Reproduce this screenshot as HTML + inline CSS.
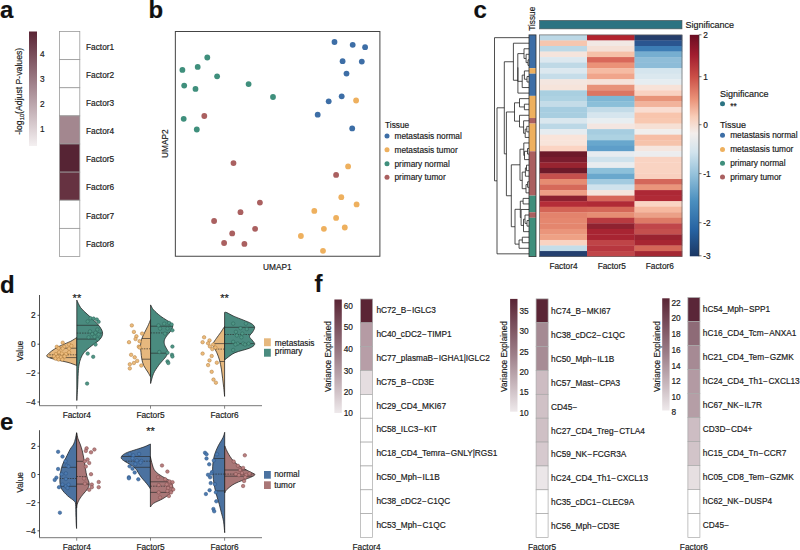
<!DOCTYPE html>
<html><head><meta charset="utf-8"><style>
html,body{margin:0;padding:0;background:#fff;width:800px;height:550px;overflow:hidden}
svg{display:block;font-family:"Liberation Sans", sans-serif}
text{stroke:#1a1a1a;stroke-width:0.18px}
</style></head><body>
<svg width="800" height="550" viewBox="0 0 800 550">
<text x="0.00" y="18.00" font-size="24" text-anchor="start" fill="#111" font-weight="bold" >a</text>
<text x="148.50" y="18.20" font-size="24" text-anchor="start" fill="#111" font-weight="bold" >b</text>
<text x="473.50" y="18.10" font-size="24" text-anchor="start" fill="#111" font-weight="bold" >c</text>
<text x="0.00" y="293.00" font-size="24" text-anchor="start" fill="#111" font-weight="bold" >d</text>
<text x="0.00" y="430.00" font-size="24" text-anchor="start" fill="#111" font-weight="bold" >e</text>
<text x="314.50" y="291.60" font-size="24" text-anchor="start" fill="#111" font-weight="bold" >f</text>
<defs>
<linearGradient id="ga" x1="0" y1="0" x2="0" y2="1"><stop offset="0" stop-color="#5a2535"/><stop offset="1" stop-color="#f4f0f1"/></linearGradient>
<linearGradient id="gc" x1="0" y1="0" x2="0" y2="1"><stop offset="0" stop-color="#6a0d22"/><stop offset="0.09" stop-color="#a11d2f"/><stop offset="0.19" stop-color="#cb4f47"/><stop offset="0.29" stop-color="#ea9278"/><stop offset="0.37" stop-color="#f8cdb8"/><stop offset="0.445" stop-color="#f3eeec"/><stop offset="0.53" stop-color="#d2e3ed"/><stop offset="0.63" stop-color="#94c1da"/><stop offset="0.75" stop-color="#4b8fbf"/><stop offset="0.88" stop-color="#2763a2"/><stop offset="1" stop-color="#1b3663"/></linearGradient>
</defs>
<rect x="29" y="31.5" width="8" height="114.5" fill="url(#ga)"/>
<text x="40.00" y="57.40" font-size="8.3" text-anchor="start" fill="#1a1a1a" font-weight="normal" >4</text>
<text x="40.00" y="82.30" font-size="8.3" text-anchor="start" fill="#1a1a1a" font-weight="normal" >3</text>
<text x="40.00" y="107.40" font-size="8.3" text-anchor="start" fill="#1a1a1a" font-weight="normal" >2</text>
<text x="40.00" y="131.70" font-size="8.3" text-anchor="start" fill="#1a1a1a" font-weight="normal" >1</text>
<text transform="translate(18.9,91.3) rotate(-90)" x="0" y="3.1" font-size="8.7" text-anchor="middle" fill="#1a1a1a">-log<tspan font-size="5.8" dy="2">10</tspan><tspan dy="-2">(Adjust P-values)</tspan></text>
<rect x="59.5" y="31.50" width="20.3" height="28.12" fill="#ffffff" stroke="#9a9a9a" stroke-width="0.8"/>
<text x="86.00" y="49.76" font-size="8.3" text-anchor="start" fill="#1a1a1a" font-weight="normal" >Factor1</text>
<rect x="59.5" y="59.62" width="20.3" height="28.12" fill="#ffffff" stroke="#9a9a9a" stroke-width="0.8"/>
<text x="86.00" y="77.89" font-size="8.3" text-anchor="start" fill="#1a1a1a" font-weight="normal" >Factor2</text>
<rect x="59.5" y="87.75" width="20.3" height="28.12" fill="#ffffff" stroke="#9a9a9a" stroke-width="0.8"/>
<text x="86.00" y="106.01" font-size="8.3" text-anchor="start" fill="#1a1a1a" font-weight="normal" >Factor3</text>
<rect x="59.5" y="115.88" width="20.3" height="28.12" fill="#a3878f" stroke="#9a9a9a" stroke-width="0.8"/>
<text x="86.00" y="134.14" font-size="8.3" text-anchor="start" fill="#1a1a1a" font-weight="normal" >Factor4</text>
<rect x="59.5" y="144.00" width="20.3" height="28.12" fill="#562434" stroke="#9a9a9a" stroke-width="0.8"/>
<text x="86.00" y="162.26" font-size="8.3" text-anchor="start" fill="#1a1a1a" font-weight="normal" >Factor5</text>
<rect x="59.5" y="172.12" width="20.3" height="28.12" fill="#663241" stroke="#9a9a9a" stroke-width="0.8"/>
<text x="86.00" y="190.39" font-size="8.3" text-anchor="start" fill="#1a1a1a" font-weight="normal" >Factor6</text>
<rect x="59.5" y="200.25" width="20.3" height="28.12" fill="#ffffff" stroke="#9a9a9a" stroke-width="0.8"/>
<text x="86.00" y="218.51" font-size="8.3" text-anchor="start" fill="#1a1a1a" font-weight="normal" >Factor7</text>
<rect x="59.5" y="228.38" width="20.3" height="28.12" fill="#ffffff" stroke="#9a9a9a" stroke-width="0.8"/>
<text x="86.00" y="246.64" font-size="8.3" text-anchor="start" fill="#1a1a1a" font-weight="normal" >Factor8</text>
<rect x="175.35" y="31.5" width="204.55" height="224.75" fill="none" stroke="#444" stroke-width="1"/>
<circle cx="334.5" cy="42.0" r="2.9" fill="#3d6ea6"/>
<circle cx="352.7" cy="44.8" r="2.9" fill="#3d6ea6"/>
<circle cx="365.1" cy="47.2" r="2.9" fill="#3d6ea6"/>
<circle cx="342.6" cy="61.2" r="2.9" fill="#3d6ea6"/>
<circle cx="361.8" cy="61.6" r="2.9" fill="#3d6ea6"/>
<circle cx="346.5" cy="73.6" r="2.9" fill="#3d6ea6"/>
<circle cx="341.7" cy="96.3" r="2.9" fill="#3d6ea6"/>
<circle cx="328.7" cy="101.3" r="2.9" fill="#3d6ea6"/>
<circle cx="317.7" cy="114.7" r="2.9" fill="#3d6ea6"/>
<circle cx="352.2" cy="128.4" r="2.9" fill="#3d6ea6"/>
<circle cx="356.1" cy="100.5" r="2.9" fill="#eeb05e"/>
<circle cx="348.1" cy="166.4" r="2.9" fill="#eeb05e"/>
<circle cx="341.3" cy="197.2" r="2.9" fill="#eeb05e"/>
<circle cx="356.6" cy="204.4" r="2.9" fill="#eeb05e"/>
<circle cx="314.3" cy="210.9" r="2.9" fill="#eeb05e"/>
<circle cx="336.1" cy="217.9" r="2.9" fill="#eeb05e"/>
<circle cx="323.9" cy="228.8" r="2.9" fill="#eeb05e"/>
<circle cx="344.8" cy="227.5" r="2.9" fill="#eeb05e"/>
<circle cx="300.9" cy="236.0" r="2.9" fill="#eeb05e"/>
<circle cx="323.0" cy="250.8" r="2.9" fill="#eeb05e"/>
<circle cx="207.3" cy="57.5" r="2.9" fill="#3f8f7c"/>
<circle cx="197.7" cy="66.9" r="2.9" fill="#3f8f7c"/>
<circle cx="182.4" cy="69.9" r="2.9" fill="#3f8f7c"/>
<circle cx="217.1" cy="76.3" r="2.9" fill="#3f8f7c"/>
<circle cx="184.2" cy="85.6" r="2.9" fill="#3f8f7c"/>
<circle cx="195.5" cy="88.9" r="2.9" fill="#3f8f7c"/>
<circle cx="248.6" cy="84.1" r="2.9" fill="#3f8f7c"/>
<circle cx="273.0" cy="97.0" r="2.9" fill="#3f8f7c"/>
<circle cx="183.7" cy="118.8" r="2.9" fill="#3f8f7c"/>
<circle cx="196.8" cy="129.5" r="2.9" fill="#3f8f7c"/>
<circle cx="204.3" cy="116.0" r="2.9" fill="#aa6060"/>
<circle cx="233.5" cy="163.1" r="2.9" fill="#aa6060"/>
<circle cx="259.9" cy="202.6" r="2.9" fill="#aa6060"/>
<circle cx="240.5" cy="212.2" r="2.9" fill="#aa6060"/>
<circle cx="214.1" cy="221.0" r="2.9" fill="#aa6060"/>
<circle cx="255.1" cy="228.8" r="2.9" fill="#aa6060"/>
<circle cx="232.2" cy="233.4" r="2.9" fill="#aa6060"/>
<circle cx="224.1" cy="243.0" r="2.9" fill="#aa6060"/>
<circle cx="244.4" cy="243.9" r="2.9" fill="#aa6060"/>
<circle cx="336.1" cy="174.9" r="2.9" fill="#aa6060"/>
<text transform="translate(165.30,143.60) rotate(-90)" x="0" y="2.99" font-size="8.3" text-anchor="middle" fill="#1a1a1a">UMAP2</text>
<text x="277.30" y="270.00" font-size="8.3" text-anchor="middle" fill="#1a1a1a" font-weight="normal" >UMAP1</text>
<text x="385.10" y="127.50" font-size="8.3" text-anchor="start" fill="#1a1a1a" font-weight="normal" >Tissue</text>
<circle cx="387" cy="135.9" r="2.5" fill="#3d6ea6"/>
<text x="394.50" y="138.80" font-size="8.3" text-anchor="start" fill="#1a1a1a" font-weight="normal" >metastasis normal</text>
<circle cx="387" cy="149.7" r="2.5" fill="#eeb05e"/>
<text x="394.50" y="152.60" font-size="8.3" text-anchor="start" fill="#1a1a1a" font-weight="normal" >metastasis tumor</text>
<circle cx="387" cy="163.8" r="2.5" fill="#3f8f7c"/>
<text x="394.50" y="166.70" font-size="8.3" text-anchor="start" fill="#1a1a1a" font-weight="normal" >primary normal</text>
<circle cx="387" cy="177.3" r="2.5" fill="#aa6060"/>
<text x="394.50" y="180.20" font-size="8.3" text-anchor="start" fill="#1a1a1a" font-weight="normal" >primary tumor</text>
<rect x="539.50" y="34.900" width="47.80" height="5.843" fill="#bcd8e6"/>
<rect x="587.00" y="34.900" width="47.80" height="5.843" fill="#b2242f"/>
<rect x="634.50" y="34.900" width="47.80" height="5.843" fill="#253e6b"/>
<rect x="539.50" y="40.442" width="47.80" height="5.843" fill="#f6c6af"/>
<rect x="587.00" y="40.442" width="47.80" height="5.843" fill="#f2e8e4"/>
<rect x="634.50" y="40.442" width="47.80" height="5.843" fill="#2a5590"/>
<rect x="539.50" y="45.985" width="47.80" height="5.843" fill="#bcd8e6"/>
<rect x="587.00" y="45.985" width="47.80" height="5.843" fill="#f5e0d6"/>
<rect x="634.50" y="45.985" width="47.80" height="5.843" fill="#3d7db5"/>
<rect x="539.50" y="51.528" width="47.80" height="5.843" fill="#f5e4dc"/>
<rect x="587.00" y="51.528" width="47.80" height="5.843" fill="#f6c1a8"/>
<rect x="634.50" y="51.528" width="47.80" height="5.843" fill="#76aed0"/>
<rect x="539.50" y="57.070" width="47.80" height="5.843" fill="#dce8ef"/>
<rect x="587.00" y="57.070" width="47.80" height="5.843" fill="#d9685a"/>
<rect x="634.50" y="57.070" width="47.80" height="5.843" fill="#8fbdd8"/>
<rect x="539.50" y="62.612" width="47.80" height="5.843" fill="#bfd9e6"/>
<rect x="587.00" y="62.612" width="47.80" height="5.843" fill="#eb9278"/>
<rect x="634.50" y="62.612" width="47.80" height="5.843" fill="#8dbcd8"/>
<rect x="539.50" y="68.155" width="47.80" height="5.843" fill="#dce8ef"/>
<rect x="587.00" y="68.155" width="47.80" height="5.843" fill="#f5bba3"/>
<rect x="634.50" y="68.155" width="47.80" height="5.843" fill="#d5e5ee"/>
<rect x="539.50" y="73.697" width="47.80" height="5.843" fill="#c6dde9"/>
<rect x="587.00" y="73.697" width="47.80" height="5.843" fill="#f0a58b"/>
<rect x="634.50" y="73.697" width="47.80" height="5.843" fill="#dbe8ef"/>
<rect x="539.50" y="79.240" width="47.80" height="5.843" fill="#f4e6e0"/>
<rect x="587.00" y="79.240" width="47.80" height="5.843" fill="#f5e3da"/>
<rect x="634.50" y="79.240" width="47.80" height="5.843" fill="#e6edf1"/>
<rect x="539.50" y="84.782" width="47.80" height="5.843" fill="#f6e4db"/>
<rect x="587.00" y="84.782" width="47.80" height="5.843" fill="#e8937a"/>
<rect x="634.50" y="84.782" width="47.80" height="5.843" fill="#f7e2d8"/>
<rect x="539.50" y="90.325" width="47.80" height="5.843" fill="#a9cfe0"/>
<rect x="587.00" y="90.325" width="47.80" height="5.843" fill="#dc7562"/>
<rect x="634.50" y="90.325" width="47.80" height="5.843" fill="#f9d2c1"/>
<rect x="539.50" y="95.868" width="47.80" height="5.843" fill="#aed2e2"/>
<rect x="587.00" y="95.868" width="47.80" height="5.843" fill="#7eb6d4"/>
<rect x="634.50" y="95.868" width="47.80" height="5.843" fill="#e89479"/>
<rect x="539.50" y="101.410" width="47.80" height="5.843" fill="#c4dce8"/>
<rect x="587.00" y="101.410" width="47.80" height="5.843" fill="#8bbfd9"/>
<rect x="634.50" y="101.410" width="47.80" height="5.843" fill="#f2b39b"/>
<rect x="539.50" y="106.953" width="47.80" height="5.843" fill="#a6cde0"/>
<rect x="587.00" y="106.953" width="47.80" height="5.843" fill="#c3dbe8"/>
<rect x="634.50" y="106.953" width="47.80" height="5.843" fill="#f9ddd1"/>
<rect x="539.50" y="112.495" width="47.80" height="5.843" fill="#a8cee0"/>
<rect x="587.00" y="112.495" width="47.80" height="5.843" fill="#d6e5ee"/>
<rect x="634.50" y="112.495" width="47.80" height="5.843" fill="#f8c5ad"/>
<rect x="539.50" y="118.037" width="47.80" height="5.843" fill="#dae7ee"/>
<rect x="587.00" y="118.037" width="47.80" height="5.843" fill="#e8eef1"/>
<rect x="634.50" y="118.037" width="47.80" height="5.843" fill="#f8c8b1"/>
<rect x="539.50" y="123.580" width="47.80" height="5.843" fill="#bcd8e6"/>
<rect x="587.00" y="123.580" width="47.80" height="5.843" fill="#f3e6e1"/>
<rect x="634.50" y="123.580" width="47.80" height="5.843" fill="#f6e0d5"/>
<rect x="539.50" y="129.123" width="47.80" height="5.843" fill="#e6ecf0"/>
<rect x="587.00" y="129.123" width="47.80" height="5.843" fill="#a6cde0"/>
<rect x="634.50" y="129.123" width="47.80" height="5.843" fill="#f0eeed"/>
<rect x="539.50" y="134.665" width="47.80" height="5.843" fill="#f9e4da"/>
<rect x="587.00" y="134.665" width="47.80" height="5.843" fill="#add2e2"/>
<rect x="634.50" y="134.665" width="47.80" height="5.843" fill="#f6bea6"/>
<rect x="539.50" y="140.208" width="47.80" height="5.843" fill="#f8e4da"/>
<rect x="587.00" y="140.208" width="47.80" height="5.843" fill="#68a7cd"/>
<rect x="634.50" y="140.208" width="47.80" height="5.843" fill="#f6c3ab"/>
<rect x="539.50" y="145.750" width="47.80" height="5.843" fill="#fbd4c3"/>
<rect x="587.00" y="145.750" width="47.80" height="5.843" fill="#5e9ec9"/>
<rect x="634.50" y="145.750" width="47.80" height="5.843" fill="#f5e6df"/>
<rect x="539.50" y="151.293" width="47.80" height="5.843" fill="#6d1a2a"/>
<rect x="587.00" y="151.293" width="47.80" height="5.843" fill="#e7ecf0"/>
<rect x="634.50" y="151.293" width="47.80" height="5.843" fill="#ecedef"/>
<rect x="539.50" y="156.835" width="47.80" height="5.843" fill="#7a1d2e"/>
<rect x="587.00" y="156.835" width="47.80" height="5.843" fill="#cfe2ec"/>
<rect x="634.50" y="156.835" width="47.80" height="5.843" fill="#f9d3c2"/>
<rect x="539.50" y="162.377" width="47.80" height="5.843" fill="#982430"/>
<rect x="587.00" y="162.377" width="47.80" height="5.843" fill="#e8ecef"/>
<rect x="634.50" y="162.377" width="47.80" height="5.843" fill="#f9d3c2"/>
<rect x="539.50" y="167.920" width="47.80" height="5.843" fill="#6d1a2a"/>
<rect x="587.00" y="167.920" width="47.80" height="5.843" fill="#8cc0da"/>
<rect x="634.50" y="167.920" width="47.80" height="5.843" fill="#f9d3c2"/>
<rect x="539.50" y="173.463" width="47.80" height="5.843" fill="#c5504d"/>
<rect x="587.00" y="173.463" width="47.80" height="5.843" fill="#6aa8cd"/>
<rect x="634.50" y="173.463" width="47.80" height="5.843" fill="#f9d0bf"/>
<rect x="539.50" y="179.005" width="47.80" height="5.843" fill="#e68c72"/>
<rect x="587.00" y="179.005" width="47.80" height="5.843" fill="#a3cbe0"/>
<rect x="634.50" y="179.005" width="47.80" height="5.843" fill="#d4675a"/>
<rect x="539.50" y="184.548" width="47.80" height="5.843" fill="#d66a5a"/>
<rect x="587.00" y="184.548" width="47.80" height="5.843" fill="#cfe2ec"/>
<rect x="634.50" y="184.548" width="47.80" height="5.843" fill="#ea957b"/>
<rect x="539.50" y="190.090" width="47.80" height="5.843" fill="#ee9f85"/>
<rect x="587.00" y="190.090" width="47.80" height="5.843" fill="#f5e4dc"/>
<rect x="634.50" y="190.090" width="47.80" height="5.843" fill="#ad2835"/>
<rect x="539.50" y="195.633" width="47.80" height="5.843" fill="#8c2230"/>
<rect x="587.00" y="195.633" width="47.80" height="5.843" fill="#d6665a"/>
<rect x="634.50" y="195.633" width="47.80" height="5.843" fill="#b02a36"/>
<rect x="539.50" y="201.175" width="47.80" height="5.843" fill="#b42d38"/>
<rect x="587.00" y="201.175" width="47.80" height="5.843" fill="#b02a36"/>
<rect x="634.50" y="201.175" width="47.80" height="5.843" fill="#fad5c4"/>
<rect x="539.50" y="206.718" width="47.80" height="5.843" fill="#d46556"/>
<rect x="587.00" y="206.718" width="47.80" height="5.843" fill="#d56858"/>
<rect x="634.50" y="206.718" width="47.80" height="5.843" fill="#f6b89f"/>
<rect x="539.50" y="212.260" width="47.80" height="5.843" fill="#e3836c"/>
<rect x="587.00" y="212.260" width="47.80" height="5.843" fill="#e68d73"/>
<rect x="634.50" y="212.260" width="47.80" height="5.843" fill="#eba087"/>
<rect x="539.50" y="217.803" width="47.80" height="5.843" fill="#e5876f"/>
<rect x="587.00" y="217.803" width="47.80" height="5.843" fill="#b83a40"/>
<rect x="634.50" y="217.803" width="47.80" height="5.843" fill="#dd7a66"/>
<rect x="539.50" y="223.345" width="47.80" height="5.843" fill="#e4866e"/>
<rect x="587.00" y="223.345" width="47.80" height="5.843" fill="#8f2230"/>
<rect x="634.50" y="223.345" width="47.80" height="5.843" fill="#c0464a"/>
<rect x="539.50" y="228.888" width="47.80" height="5.843" fill="#ea957b"/>
<rect x="587.00" y="228.888" width="47.80" height="5.843" fill="#a82432"/>
<rect x="634.50" y="228.888" width="47.80" height="5.843" fill="#c44f4e"/>
<rect x="539.50" y="234.430" width="47.80" height="5.843" fill="#eea185"/>
<rect x="587.00" y="234.430" width="47.80" height="5.843" fill="#a82432"/>
<rect x="634.50" y="234.430" width="47.80" height="5.843" fill="#9a2331"/>
<rect x="539.50" y="239.973" width="47.80" height="5.843" fill="#f9d3c2"/>
<rect x="587.00" y="239.973" width="47.80" height="5.843" fill="#bf4447"/>
<rect x="634.50" y="239.973" width="47.80" height="5.843" fill="#a72632"/>
<rect x="539.50" y="245.515" width="47.80" height="5.843" fill="#c4dde9"/>
<rect x="587.00" y="245.515" width="47.80" height="5.843" fill="#b7373f"/>
<rect x="634.50" y="245.515" width="47.80" height="5.843" fill="#d46758"/>
<rect x="539.50" y="251.058" width="47.80" height="5.843" fill="#24406f"/>
<rect x="587.00" y="251.058" width="47.80" height="5.843" fill="#c0464a"/>
<rect x="634.50" y="251.058" width="47.80" height="5.843" fill="#a42833"/>
<rect x="539.5" y="34.9" width="142.5" height="221.70" fill="none" stroke="#666" stroke-width="0.7"/>
<rect x="539.5" y="20.3" width="142.5" height="8.6" fill="#2b7382" stroke="#555" stroke-width="0.6"/>
<text x="685.50" y="27.80" font-size="9" text-anchor="start" fill="#1a1a1a" font-weight="normal" >Significance</text>
<rect x="529.0" y="34.900" width="7" height="33.255" fill="#3d6ea6"/>
<rect x="529.0" y="68.155" width="7" height="5.543" fill="#eeb05e"/>
<rect x="529.0" y="73.697" width="7" height="22.170" fill="#3d6ea6"/>
<rect x="529.0" y="95.868" width="7" height="22.170" fill="#eeb05e"/>
<rect x="529.0" y="118.037" width="7" height="5.543" fill="#aa6060"/>
<rect x="529.0" y="123.580" width="7" height="27.713" fill="#eeb05e"/>
<rect x="529.0" y="151.293" width="7" height="44.340" fill="#aa6060"/>
<rect x="529.0" y="195.633" width="7" height="16.628" fill="#3f8f7c"/>
<rect x="529.0" y="212.260" width="7" height="5.543" fill="#aa6060"/>
<rect x="529.0" y="217.803" width="7" height="38.797" fill="#3f8f7c"/>
<rect x="529.0" y="34.9" width="7" height="221.70" fill="none" stroke="#333" stroke-width="0.8"/>
<text transform="translate(532.30,18.75) rotate(-90)" x="0" y="2.99" font-size="8.3" text-anchor="middle" fill="#1a1a1a">Tissue</text>
<rect x="689.8" y="34.8" width="9.2" height="221.5" fill="url(#gc)"/>
<line x1="699" y1="34.8" x2="699" y2="256.3" stroke="#333" stroke-width="0.7"/>
<line x1="699" y1="34.8" x2="701.5" y2="34.8" stroke="#333" stroke-width="0.7"/>
<text x="703.30" y="37.80" font-size="8.3" text-anchor="start" fill="#1a1a1a" font-weight="normal" >2</text>
<line x1="699" y1="76.7" x2="701.5" y2="76.7" stroke="#333" stroke-width="0.7"/>
<text x="703.30" y="79.70" font-size="8.3" text-anchor="start" fill="#1a1a1a" font-weight="normal" >1</text>
<line x1="699" y1="124.7" x2="701.5" y2="124.7" stroke="#333" stroke-width="0.7"/>
<text x="703.30" y="127.70" font-size="8.3" text-anchor="start" fill="#1a1a1a" font-weight="normal" >0</text>
<line x1="699" y1="173.6" x2="701.5" y2="173.6" stroke="#333" stroke-width="0.7"/>
<text x="703.30" y="176.60" font-size="8.3" text-anchor="start" fill="#1a1a1a" font-weight="normal" >-1</text>
<line x1="699" y1="222.7" x2="701.5" y2="222.7" stroke="#333" stroke-width="0.7"/>
<text x="703.30" y="225.70" font-size="8.3" text-anchor="start" fill="#1a1a1a" font-weight="normal" >-2</text>
<line x1="699" y1="255.8" x2="701.5" y2="255.8" stroke="#333" stroke-width="0.7"/>
<text x="703.30" y="258.80" font-size="8.3" text-anchor="start" fill="#1a1a1a" font-weight="normal" >-3</text>
<text x="563.45" y="268.80" font-size="8.3" text-anchor="middle" fill="#1a1a1a" font-weight="normal" >Factor4</text>
<text x="611.75" y="268.80" font-size="8.3" text-anchor="middle" fill="#1a1a1a" font-weight="normal" >Factor5</text>
<text x="659.85" y="268.80" font-size="8.3" text-anchor="middle" fill="#1a1a1a" font-weight="normal" >Factor6</text>
<text x="719.90" y="97.00" font-size="9" text-anchor="start" fill="#1a1a1a" font-weight="normal" >Significance</text>
<circle cx="722.5" cy="103.8" r="2.5" fill="#2b7382"/>
<text x="730.30" y="108.80" font-size="8.3" text-anchor="start" fill="#1a1a1a" font-weight="normal" >**</text>
<text x="719.90" y="127.60" font-size="9" text-anchor="start" fill="#1a1a1a" font-weight="normal" >Tissue</text>
<circle cx="722.5" cy="135.2" r="2.5" fill="#3d6ea6"/>
<text x="730.20" y="138.10" font-size="8.3" text-anchor="start" fill="#1a1a1a" font-weight="normal" >metastasis normal</text>
<circle cx="722.5" cy="149.5" r="2.5" fill="#eeb05e"/>
<text x="730.20" y="152.40" font-size="8.3" text-anchor="start" fill="#1a1a1a" font-weight="normal" >metastasis tumor</text>
<circle cx="722.5" cy="163.2" r="2.5" fill="#3f8f7c"/>
<text x="730.20" y="166.10" font-size="8.3" text-anchor="start" fill="#1a1a1a" font-weight="normal" >primary normal</text>
<circle cx="722.5" cy="177.1" r="2.5" fill="#aa6060"/>
<text x="730.20" y="180.00" font-size="8.3" text-anchor="start" fill="#1a1a1a" font-weight="normal" >primary tumor</text>
<path d="M528.00,59.84V65.38M528.00,59.84H529.00M528.00,65.38H529.00M526.10,54.30V62.61M526.10,54.30H529.00M526.10,62.61H528.00M524.00,48.76V58.46M524.00,48.76H529.00M524.00,58.46H526.10M527.00,76.47V82.01M527.00,76.47H529.00M527.00,82.01H529.00M524.40,70.93V79.24M524.40,70.93H529.00M524.40,79.24H527.00M522.20,75.08V87.55M522.20,75.08H524.40M522.20,87.55H529.00M517.80,53.61V81.32M517.80,53.61H524.00M517.80,81.32H522.20M517.90,67.46V93.10M517.90,67.46H517.80M517.90,93.10H529.00M513.40,43.21V80.28M513.40,43.21H529.00M513.40,80.28H517.90M524.40,104.18V109.72M524.40,104.18H529.00M524.40,109.72H529.00M519.50,98.64V106.95M519.50,98.64H529.00M519.50,106.95H524.40M526.80,126.35V131.89M526.80,126.35H529.00M526.80,131.89H529.00M525.20,129.12V137.44M525.20,129.12H526.80M525.20,137.44H529.00M523.60,120.81V133.28M523.60,120.81H529.00M523.60,133.28H525.20M519.50,115.27V127.04M519.50,115.27H529.00M519.50,127.04H523.60M514.50,102.80V121.16M514.50,102.80H519.50M514.50,121.16H519.50M527.50,148.52V154.06M527.50,148.52H529.00M527.50,154.06H529.00M524.50,151.29V159.61M524.50,151.29H527.50M524.50,159.61H529.00M523.80,142.98V155.45M523.80,142.98H529.00M523.80,155.45H524.50M526.50,165.15V170.69M526.50,165.15H529.00M526.50,170.69H529.00M525.40,167.92V176.23M525.40,167.92H526.50M525.40,176.23H529.00M527.60,181.78V187.32M527.60,181.78H529.00M527.60,187.32H529.00M526.00,184.55V192.86M526.00,184.55H527.60M526.00,192.86H529.00M522.20,172.08V188.70M522.20,172.08H525.40M522.20,188.70H526.00M520.00,149.21V180.39M520.00,149.21H523.80M520.00,180.39H522.20M523.10,198.40V203.95M523.10,198.40H529.00M523.10,203.95H529.00M527.00,220.57V226.12M527.00,220.57H529.00M527.00,226.12H529.00M525.00,215.03V223.35M525.00,215.03H529.00M525.00,223.35H527.00M523.50,219.19V231.66M523.50,219.19H525.00M523.50,231.66H529.00M521.10,209.49V225.42M521.10,209.49H529.00M521.10,225.42H523.50M520.30,201.18V217.46M520.30,201.18H523.10M520.30,217.46H521.10M522.30,237.20V242.74M522.30,237.20H529.00M522.30,242.74H529.00M519.05,239.97V248.29M519.05,239.97H522.30M519.05,248.29H529.00M515.00,209.32V244.13M515.00,209.32H520.30M515.00,244.13H519.05M511.30,164.80V226.72M511.30,164.80H520.00M511.30,226.72H515.00M506.40,111.98V195.76M506.40,111.98H514.50M506.40,195.76H511.30M504.30,61.75V153.87M504.30,61.75H513.40M504.30,153.87H506.40M497.00,107.81V253.83M497.00,107.81H504.30M497.00,253.83H529.00M494.50,37.67V180.82M494.50,37.67H529.00M494.50,180.82H497.00" fill="none" stroke="#222" stroke-width="0.8"/>
<line x1="39.5" y1="295" x2="39.5" y2="405.7" stroke="#222" stroke-width="0.8"/>
<line x1="39.1" y1="405.7" x2="262" y2="405.7" stroke="#777" stroke-width="1"/>
<line x1="37.5" y1="315.30" x2="39.5" y2="315.30" stroke="#222" stroke-width="0.8"/>
<text x="35.60" y="318.30" font-size="8.3" text-anchor="end" fill="#1a1a1a" font-weight="normal" >2</text>
<line x1="37.5" y1="344.20" x2="39.5" y2="344.20" stroke="#222" stroke-width="0.8"/>
<text x="35.60" y="347.20" font-size="8.3" text-anchor="end" fill="#1a1a1a" font-weight="normal" >0</text>
<line x1="37.5" y1="373.10" x2="39.5" y2="373.10" stroke="#222" stroke-width="0.8"/>
<text x="35.60" y="376.10" font-size="8.3" text-anchor="end" fill="#1a1a1a" font-weight="normal" >&#8722;2</text>
<line x1="37.5" y1="402.00" x2="39.5" y2="402.00" stroke="#222" stroke-width="0.8"/>
<text x="35.60" y="405.00" font-size="8.3" text-anchor="end" fill="#1a1a1a" font-weight="normal" >&#8722;4</text>
<line x1="76.7" y1="405.7" x2="76.7" y2="408.7" stroke="#666" stroke-width="0.8"/>
<text x="76.70" y="418.00" font-size="8.3" text-anchor="middle" fill="#1a1a1a" font-weight="normal" >Factor4</text>
<line x1="150.5" y1="405.7" x2="150.5" y2="408.7" stroke="#666" stroke-width="0.8"/>
<text x="150.50" y="418.00" font-size="8.3" text-anchor="middle" fill="#1a1a1a" font-weight="normal" >Factor5</text>
<line x1="224.6" y1="405.7" x2="224.6" y2="408.7" stroke="#666" stroke-width="0.8"/>
<text x="224.60" y="418.00" font-size="8.3" text-anchor="middle" fill="#1a1a1a" font-weight="normal" >Factor6</text>
<text x="76.90" y="301.50" font-size="11" text-anchor="middle" fill="#1a1a1a" font-weight="normal" >**</text>
<text x="224.60" y="301.50" font-size="11" text-anchor="middle" fill="#1a1a1a" font-weight="normal" >**</text>
<text transform="translate(19.90,350.90) rotate(-90)" x="0" y="2.99" font-size="8.3" text-anchor="middle" fill="#1a1a1a">Value</text>
<path d="M76.80,337.50C75.75,338.15 73.03,340.12 70.50,341.40C67.97,342.68 64.25,343.93 61.60,345.20C58.95,346.47 56.62,347.73 54.60,349.00C52.58,350.27 50.77,351.53 49.50,352.80C48.23,354.07 45.83,355.43 47.00,356.60C48.17,357.77 53.00,358.83 56.50,359.80C60.00,360.77 64.62,361.45 68.00,362.40C71.38,363.35 75.33,364.98 76.80,365.50L76.80,365.50L76.80,337.50Z" fill="#e6b87e" stroke="none"/>
<line x1="76.80" y1="348.20" x2="56.07" y2="348.20" stroke="#2a2a2a" stroke-width="0.65"/>
<line x1="76.80" y1="354.80" x2="48.18" y2="354.80" stroke="#2a2a2a" stroke-width="0.65" stroke-dasharray="1.6,1"/>
<line x1="76.80" y1="357.60" x2="49.97" y2="357.60" stroke="#2a2a2a" stroke-width="0.65"/>
<path d="M76.80,337.50C75.75,338.15 73.03,340.12 70.50,341.40C67.97,342.68 64.25,343.93 61.60,345.20C58.95,346.47 56.62,347.73 54.60,349.00C52.58,350.27 50.77,351.53 49.50,352.80C48.23,354.07 45.83,355.43 47.00,356.60C48.17,357.77 53.00,358.83 56.50,359.80C60.00,360.77 64.62,361.45 68.00,362.40C71.38,363.35 75.33,364.98 76.80,365.50L76.80,365.50L76.80,337.50Z" fill="none" stroke="#1e1e1e" stroke-width="0.75" stroke-linejoin="round"/>
<circle cx="62.70" cy="342.70" r="1.75" fill="#ecbb7c" stroke="#b07c3c" stroke-width="0.5"/>
<circle cx="69.10" cy="344.50" r="1.75" fill="#ecbb7c" stroke="#b07c3c" stroke-width="0.5"/>
<circle cx="64.10" cy="346.80" r="1.75" fill="#ecbb7c" stroke="#b07c3c" stroke-width="0.5"/>
<circle cx="71.40" cy="345.90" r="1.75" fill="#ecbb7c" stroke="#b07c3c" stroke-width="0.5"/>
<circle cx="56.80" cy="346.80" r="1.75" fill="#ecbb7c" stroke="#b07c3c" stroke-width="0.5"/>
<circle cx="58.60" cy="348.20" r="1.75" fill="#ecbb7c" stroke="#b07c3c" stroke-width="0.5"/>
<circle cx="62.70" cy="348.60" r="1.75" fill="#ecbb7c" stroke="#b07c3c" stroke-width="0.5"/>
<circle cx="69.10" cy="348.60" r="1.75" fill="#ecbb7c" stroke="#b07c3c" stroke-width="0.5"/>
<circle cx="59.10" cy="352.30" r="1.75" fill="#ecbb7c" stroke="#b07c3c" stroke-width="0.5"/>
<circle cx="61.80" cy="353.60" r="1.75" fill="#ecbb7c" stroke="#b07c3c" stroke-width="0.5"/>
<circle cx="65.90" cy="354.10" r="1.75" fill="#ecbb7c" stroke="#b07c3c" stroke-width="0.5"/>
<circle cx="69.10" cy="352.30" r="1.75" fill="#ecbb7c" stroke="#b07c3c" stroke-width="0.5"/>
<circle cx="55.90" cy="354.10" r="1.75" fill="#ecbb7c" stroke="#b07c3c" stroke-width="0.5"/>
<circle cx="54.10" cy="356.40" r="1.75" fill="#ecbb7c" stroke="#b07c3c" stroke-width="0.5"/>
<circle cx="57.70" cy="356.80" r="1.75" fill="#ecbb7c" stroke="#b07c3c" stroke-width="0.5"/>
<circle cx="60.90" cy="357.30" r="1.75" fill="#ecbb7c" stroke="#b07c3c" stroke-width="0.5"/>
<circle cx="64.50" cy="356.40" r="1.75" fill="#ecbb7c" stroke="#b07c3c" stroke-width="0.5"/>
<circle cx="55.50" cy="358.60" r="1.75" fill="#ecbb7c" stroke="#b07c3c" stroke-width="0.5"/>
<circle cx="58.60" cy="359.50" r="1.75" fill="#ecbb7c" stroke="#b07c3c" stroke-width="0.5"/>
<circle cx="62.30" cy="359.50" r="1.75" fill="#ecbb7c" stroke="#b07c3c" stroke-width="0.5"/>
<path d="M76.80,300.10C77.45,301.37 78.98,305.37 80.70,307.70C82.42,310.03 84.87,311.97 87.10,314.10C89.33,316.23 91.98,318.38 94.10,320.50C96.22,322.62 98.38,324.68 99.80,326.80C101.22,328.92 102.60,331.08 102.60,333.20C102.60,335.32 101.65,337.38 99.80,339.50C97.95,341.62 94.08,343.77 91.50,345.90C88.92,348.03 86.10,350.18 84.30,352.30C82.50,354.42 81.58,356.48 80.70,358.60C79.82,360.72 79.42,362.57 79.00,365.00C78.58,367.43 78.42,369.72 78.20,373.20C77.98,376.68 77.85,382.72 77.70,385.90C77.55,389.08 77.45,389.87 77.30,392.30C77.15,394.73 76.88,399.13 76.80,400.50L76.80,400.50L76.80,300.10Z" fill="#4a8b7f" stroke="none"/>
<line x1="76.80" y1="325.30" x2="98.44" y2="325.30" stroke="#2a2a2a" stroke-width="0.65"/>
<line x1="76.80" y1="333.10" x2="102.56" y2="333.10" stroke="#2a2a2a" stroke-width="0.65" stroke-dasharray="1.6,1"/>
<line x1="76.80" y1="339.10" x2="99.98" y2="339.10" stroke="#2a2a2a" stroke-width="0.65"/>
<path d="M76.80,300.10C77.45,301.37 78.98,305.37 80.70,307.70C82.42,310.03 84.87,311.97 87.10,314.10C89.33,316.23 91.98,318.38 94.10,320.50C96.22,322.62 98.38,324.68 99.80,326.80C101.22,328.92 102.60,331.08 102.60,333.20C102.60,335.32 101.65,337.38 99.80,339.50C97.95,341.62 94.08,343.77 91.50,345.90C88.92,348.03 86.10,350.18 84.30,352.30C82.50,354.42 81.58,356.48 80.70,358.60C79.82,360.72 79.42,362.57 79.00,365.00C78.58,367.43 78.42,369.72 78.20,373.20C77.98,376.68 77.85,382.72 77.70,385.90C77.55,389.08 77.45,389.87 77.30,392.30C77.15,394.73 76.88,399.13 76.80,400.50L76.80,400.50L76.80,300.10Z" fill="none" stroke="#1e1e1e" stroke-width="0.75" stroke-linejoin="round"/>
<circle cx="87.70" cy="321.40" r="1.75" fill="#4f9685" stroke="#2c6258" stroke-width="0.5"/>
<circle cx="90.50" cy="318.20" r="1.75" fill="#4f9685" stroke="#2c6258" stroke-width="0.5"/>
<circle cx="93.60" cy="318.60" r="1.75" fill="#4f9685" stroke="#2c6258" stroke-width="0.5"/>
<circle cx="96.80" cy="319.50" r="1.75" fill="#4f9685" stroke="#2c6258" stroke-width="0.5"/>
<circle cx="98.60" cy="321.80" r="1.75" fill="#4f9685" stroke="#2c6258" stroke-width="0.5"/>
<circle cx="97.30" cy="329.50" r="1.75" fill="#4f9685" stroke="#2c6258" stroke-width="0.5"/>
<circle cx="90.00" cy="331.40" r="1.75" fill="#4f9685" stroke="#2c6258" stroke-width="0.5"/>
<circle cx="92.30" cy="334.10" r="1.75" fill="#4f9685" stroke="#2c6258" stroke-width="0.5"/>
<circle cx="95.50" cy="332.70" r="1.75" fill="#4f9685" stroke="#2c6258" stroke-width="0.5"/>
<circle cx="98.60" cy="334.50" r="1.75" fill="#4f9685" stroke="#2c6258" stroke-width="0.5"/>
<circle cx="88.60" cy="337.30" r="1.75" fill="#4f9685" stroke="#2c6258" stroke-width="0.5"/>
<circle cx="94.50" cy="336.80" r="1.75" fill="#4f9685" stroke="#2c6258" stroke-width="0.5"/>
<circle cx="97.70" cy="339.10" r="1.75" fill="#4f9685" stroke="#2c6258" stroke-width="0.5"/>
<circle cx="95.50" cy="344.50" r="1.75" fill="#4f9685" stroke="#2c6258" stroke-width="0.5"/>
<circle cx="87.70" cy="353.60" r="1.75" fill="#4f9685" stroke="#2c6258" stroke-width="0.5"/>
<circle cx="93.20" cy="356.80" r="1.75" fill="#4f9685" stroke="#2c6258" stroke-width="0.5"/>
<circle cx="87.10" cy="383.60" r="1.75" fill="#4f9685" stroke="#2c6258" stroke-width="0.5"/>
<path d="M150.60,319.60C150.13,320.70 148.82,324.02 147.80,326.20C146.78,328.38 145.53,330.52 144.50,332.70C143.47,334.88 142.27,337.12 141.60,339.30C140.93,341.48 140.60,343.62 140.50,345.80C140.40,347.98 140.78,350.22 141.00,352.40C141.22,354.58 141.35,356.72 141.80,358.90C142.25,361.08 142.70,363.32 143.70,365.50C144.70,367.68 146.65,370.10 147.80,372.00C148.95,373.90 150.13,376.08 150.60,376.90L150.60,376.90L150.60,319.60Z" fill="#e6b87e" stroke="none"/>
<line x1="150.60" y1="338.50" x2="141.95" y2="338.50" stroke="#2a2a2a" stroke-width="0.65"/>
<line x1="150.60" y1="348.80" x2="140.73" y2="348.80" stroke="#2a2a2a" stroke-width="0.65" stroke-dasharray="1.6,1"/>
<line x1="150.60" y1="359.20" x2="141.89" y2="359.20" stroke="#2a2a2a" stroke-width="0.65"/>
<path d="M150.60,319.60C150.13,320.70 148.82,324.02 147.80,326.20C146.78,328.38 145.53,330.52 144.50,332.70C143.47,334.88 142.27,337.12 141.60,339.30C140.93,341.48 140.60,343.62 140.50,345.80C140.40,347.98 140.78,350.22 141.00,352.40C141.22,354.58 141.35,356.72 141.80,358.90C142.25,361.08 142.70,363.32 143.70,365.50C144.70,367.68 146.65,370.10 147.80,372.00C148.95,373.90 150.13,376.08 150.60,376.90L150.60,376.90L150.60,319.60Z" fill="none" stroke="#1e1e1e" stroke-width="0.75" stroke-linejoin="round"/>
<circle cx="131.80" cy="325.40" r="1.75" fill="#ecbb7c" stroke="#b07c3c" stroke-width="0.5"/>
<circle cx="133.90" cy="331.90" r="1.75" fill="#ecbb7c" stroke="#b07c3c" stroke-width="0.5"/>
<circle cx="136.40" cy="336.30" r="1.75" fill="#ecbb7c" stroke="#b07c3c" stroke-width="0.5"/>
<circle cx="135.50" cy="339.00" r="1.75" fill="#ecbb7c" stroke="#b07c3c" stroke-width="0.5"/>
<circle cx="129.00" cy="342.20" r="1.75" fill="#ecbb7c" stroke="#b07c3c" stroke-width="0.5"/>
<circle cx="139.60" cy="341.20" r="1.75" fill="#ecbb7c" stroke="#b07c3c" stroke-width="0.5"/>
<circle cx="142.10" cy="333.60" r="1.75" fill="#ecbb7c" stroke="#b07c3c" stroke-width="0.5"/>
<circle cx="138.80" cy="346.60" r="1.75" fill="#ecbb7c" stroke="#b07c3c" stroke-width="0.5"/>
<circle cx="131.10" cy="354.80" r="1.75" fill="#ecbb7c" stroke="#b07c3c" stroke-width="0.5"/>
<circle cx="134.70" cy="357.30" r="1.75" fill="#ecbb7c" stroke="#b07c3c" stroke-width="0.5"/>
<circle cx="137.20" cy="360.90" r="1.75" fill="#ecbb7c" stroke="#b07c3c" stroke-width="0.5"/>
<circle cx="133.90" cy="363.00" r="1.75" fill="#ecbb7c" stroke="#b07c3c" stroke-width="0.5"/>
<circle cx="129.80" cy="364.30" r="1.75" fill="#ecbb7c" stroke="#b07c3c" stroke-width="0.5"/>
<circle cx="129.80" cy="368.40" r="1.75" fill="#ecbb7c" stroke="#b07c3c" stroke-width="0.5"/>
<circle cx="141.30" cy="365.50" r="1.75" fill="#ecbb7c" stroke="#b07c3c" stroke-width="0.5"/>
<circle cx="139.60" cy="347.50" r="1.75" fill="#ecbb7c" stroke="#b07c3c" stroke-width="0.5"/>
<path d="M150.60,304.90C151.08,305.72 151.78,307.88 153.50,309.80C155.22,311.72 158.03,314.22 160.90,316.40C163.77,318.58 168.73,321.27 170.70,322.90C172.67,324.53 172.70,324.83 172.70,326.20C172.70,327.57 171.72,329.47 170.70,331.10C169.68,332.73 167.68,334.37 166.60,336.00C165.52,337.63 164.47,339.27 164.20,340.90C163.93,342.53 164.45,344.17 165.00,345.80C165.55,347.43 167.23,349.07 167.50,350.70C167.77,352.33 167.42,353.95 166.60,355.60C165.78,357.25 163.95,358.95 162.60,360.60C161.25,362.25 160.02,363.33 158.50,365.50C156.98,367.67 154.82,370.60 153.50,373.60C152.18,376.60 151.08,381.85 150.60,383.50L150.60,383.50L150.60,304.90Z" fill="#4a8b7f" stroke="none"/>
<line x1="150.60" y1="326.20" x2="172.70" y2="326.20" stroke="#2a2a2a" stroke-width="0.65"/>
<line x1="150.60" y1="332.90" x2="169.19" y2="332.90" stroke="#2a2a2a" stroke-width="0.65" stroke-dasharray="1.6,1"/>
<line x1="150.60" y1="353.20" x2="167.04" y2="353.20" stroke="#2a2a2a" stroke-width="0.65"/>
<path d="M150.60,304.90C151.08,305.72 151.78,307.88 153.50,309.80C155.22,311.72 158.03,314.22 160.90,316.40C163.77,318.58 168.73,321.27 170.70,322.90C172.67,324.53 172.70,324.83 172.70,326.20C172.70,327.57 171.72,329.47 170.70,331.10C169.68,332.73 167.68,334.37 166.60,336.00C165.52,337.63 164.47,339.27 164.20,340.90C163.93,342.53 164.45,344.17 165.00,345.80C165.55,347.43 167.23,349.07 167.50,350.70C167.77,352.33 167.42,353.95 166.60,355.60C165.78,357.25 163.95,358.95 162.60,360.60C161.25,362.25 160.02,363.33 158.50,365.50C156.98,367.67 154.82,370.60 153.50,373.60C152.18,376.60 151.08,381.85 150.60,383.50L150.60,383.50L150.60,304.90Z" fill="none" stroke="#1e1e1e" stroke-width="0.75" stroke-linejoin="round"/>
<circle cx="158.50" cy="325.40" r="1.75" fill="#4f9685" stroke="#2c6258" stroke-width="0.5"/>
<circle cx="164.20" cy="323.70" r="1.75" fill="#4f9685" stroke="#2c6258" stroke-width="0.5"/>
<circle cx="169.10" cy="322.90" r="1.75" fill="#4f9685" stroke="#2c6258" stroke-width="0.5"/>
<circle cx="171.60" cy="324.50" r="1.75" fill="#4f9685" stroke="#2c6258" stroke-width="0.5"/>
<circle cx="167.50" cy="328.60" r="1.75" fill="#4f9685" stroke="#2c6258" stroke-width="0.5"/>
<circle cx="172.40" cy="330.30" r="1.75" fill="#4f9685" stroke="#2c6258" stroke-width="0.5"/>
<circle cx="165.00" cy="333.60" r="1.75" fill="#4f9685" stroke="#2c6258" stroke-width="0.5"/>
<circle cx="160.10" cy="328.60" r="1.75" fill="#4f9685" stroke="#2c6258" stroke-width="0.5"/>
<circle cx="172.40" cy="346.60" r="1.75" fill="#4f9685" stroke="#2c6258" stroke-width="0.5"/>
<circle cx="159.30" cy="352.00" r="1.75" fill="#4f9685" stroke="#2c6258" stroke-width="0.5"/>
<circle cx="167.50" cy="352.70" r="1.75" fill="#4f9685" stroke="#2c6258" stroke-width="0.5"/>
<circle cx="172.00" cy="354.80" r="1.75" fill="#4f9685" stroke="#2c6258" stroke-width="0.5"/>
<circle cx="172.40" cy="356.50" r="1.75" fill="#4f9685" stroke="#2c6258" stroke-width="0.5"/>
<circle cx="167.50" cy="361.40" r="1.75" fill="#4f9685" stroke="#2c6258" stroke-width="0.5"/>
<circle cx="168.30" cy="363.00" r="1.75" fill="#4f9685" stroke="#2c6258" stroke-width="0.5"/>
<path d="M224.60,326.40C223.92,327.45 221.85,330.73 220.50,332.70C219.15,334.67 217.72,336.38 216.50,338.20C215.28,340.02 213.60,342.08 213.20,343.60C212.80,345.12 213.50,345.78 214.10,347.30C214.70,348.82 215.90,350.58 216.80,352.70C217.70,354.82 218.73,357.27 219.50,360.00C220.27,362.73 220.88,366.07 221.40,369.10C221.92,372.13 222.22,375.17 222.60,378.20C222.98,381.23 223.37,384.27 223.70,387.30C224.03,390.33 224.45,394.88 224.60,396.40L224.60,396.40L224.60,326.40Z" fill="#e6b87e" stroke="none"/>
<line x1="224.60" y1="343.60" x2="213.20" y2="343.60" stroke="#2a2a2a" stroke-width="0.65"/>
<line x1="224.60" y1="349.10" x2="215.00" y2="349.10" stroke="#2a2a2a" stroke-width="0.65" stroke-dasharray="1.6,1"/>
<line x1="224.60" y1="361.50" x2="219.81" y2="361.50" stroke="#2a2a2a" stroke-width="0.65"/>
<path d="M224.60,326.40C223.92,327.45 221.85,330.73 220.50,332.70C219.15,334.67 217.72,336.38 216.50,338.20C215.28,340.02 213.60,342.08 213.20,343.60C212.80,345.12 213.50,345.78 214.10,347.30C214.70,348.82 215.90,350.58 216.80,352.70C217.70,354.82 218.73,357.27 219.50,360.00C220.27,362.73 220.88,366.07 221.40,369.10C221.92,372.13 222.22,375.17 222.60,378.20C222.98,381.23 223.37,384.27 223.70,387.30C224.03,390.33 224.45,394.88 224.60,396.40L224.60,396.40L224.60,326.40Z" fill="none" stroke="#1e1e1e" stroke-width="0.75" stroke-linejoin="round"/>
<circle cx="204.10" cy="337.30" r="1.75" fill="#ecbb7c" stroke="#b07c3c" stroke-width="0.5"/>
<circle cx="202.60" cy="342.20" r="1.75" fill="#ecbb7c" stroke="#b07c3c" stroke-width="0.5"/>
<circle cx="209.50" cy="340.40" r="1.75" fill="#ecbb7c" stroke="#b07c3c" stroke-width="0.5"/>
<circle cx="208.10" cy="343.30" r="1.75" fill="#ecbb7c" stroke="#b07c3c" stroke-width="0.5"/>
<circle cx="213.20" cy="344.50" r="1.75" fill="#ecbb7c" stroke="#b07c3c" stroke-width="0.5"/>
<circle cx="209.90" cy="346.40" r="1.75" fill="#ecbb7c" stroke="#b07c3c" stroke-width="0.5"/>
<circle cx="212.30" cy="349.10" r="1.75" fill="#ecbb7c" stroke="#b07c3c" stroke-width="0.5"/>
<circle cx="215.40" cy="347.60" r="1.75" fill="#ecbb7c" stroke="#b07c3c" stroke-width="0.5"/>
<circle cx="202.60" cy="353.60" r="1.75" fill="#ecbb7c" stroke="#b07c3c" stroke-width="0.5"/>
<circle cx="211.70" cy="356.00" r="1.75" fill="#ecbb7c" stroke="#b07c3c" stroke-width="0.5"/>
<circle cx="209.50" cy="360.40" r="1.75" fill="#ecbb7c" stroke="#b07c3c" stroke-width="0.5"/>
<circle cx="216.80" cy="362.70" r="1.75" fill="#ecbb7c" stroke="#b07c3c" stroke-width="0.5"/>
<circle cx="208.10" cy="365.10" r="1.75" fill="#ecbb7c" stroke="#b07c3c" stroke-width="0.5"/>
<circle cx="211.70" cy="371.80" r="1.75" fill="#ecbb7c" stroke="#b07c3c" stroke-width="0.5"/>
<circle cx="213.50" cy="379.60" r="1.75" fill="#ecbb7c" stroke="#b07c3c" stroke-width="0.5"/>
<circle cx="215.90" cy="382.70" r="1.75" fill="#ecbb7c" stroke="#b07c3c" stroke-width="0.5"/>
<path d="M224.60,312.40C224.97,312.43 225.22,311.93 226.80,312.60C228.38,313.27 231.37,315.17 234.10,316.40C236.83,317.63 240.32,318.80 243.20,320.00C246.08,321.20 249.50,322.38 251.40,323.60C253.30,324.82 254.37,325.93 254.60,327.30C254.83,328.67 253.65,330.28 252.80,331.80C251.95,333.32 249.50,334.88 249.50,336.40C249.50,337.92 251.95,339.55 252.80,340.90C253.65,342.25 255.15,343.28 254.60,344.50C254.05,345.72 252.77,346.83 249.50,348.20C246.23,349.57 238.78,351.03 235.00,352.70C231.22,354.37 228.53,356.98 226.80,358.20C225.07,359.42 224.97,359.70 224.60,360.00L224.60,360.00L224.60,312.40Z" fill="#4a8b7f" stroke="none"/>
<line x1="224.60" y1="327.30" x2="254.60" y2="327.30" stroke="#2a2a2a" stroke-width="0.65"/>
<line x1="224.60" y1="334.50" x2="250.86" y2="334.50" stroke="#2a2a2a" stroke-width="0.65" stroke-dasharray="1.6,1"/>
<line x1="224.60" y1="343.60" x2="254.15" y2="343.60" stroke="#2a2a2a" stroke-width="0.65"/>
<path d="M224.60,312.40C224.97,312.43 225.22,311.93 226.80,312.60C228.38,313.27 231.37,315.17 234.10,316.40C236.83,317.63 240.32,318.80 243.20,320.00C246.08,321.20 249.50,322.38 251.40,323.60C253.30,324.82 254.37,325.93 254.60,327.30C254.83,328.67 253.65,330.28 252.80,331.80C251.95,333.32 249.50,334.88 249.50,336.40C249.50,337.92 251.95,339.55 252.80,340.90C253.65,342.25 255.15,343.28 254.60,344.50C254.05,345.72 252.77,346.83 249.50,348.20C246.23,349.57 238.78,351.03 235.00,352.70C231.22,354.37 228.53,356.98 226.80,358.20C225.07,359.42 224.97,359.70 224.60,360.00L224.60,360.00L224.60,312.40Z" fill="none" stroke="#1e1e1e" stroke-width="0.75" stroke-linejoin="round"/>
<circle cx="233.20" cy="323.60" r="1.75" fill="#4f9685" stroke="#2c6258" stroke-width="0.5"/>
<circle cx="245.90" cy="323.60" r="1.75" fill="#4f9685" stroke="#2c6258" stroke-width="0.5"/>
<circle cx="240.50" cy="328.20" r="1.75" fill="#4f9685" stroke="#2c6258" stroke-width="0.5"/>
<circle cx="246.80" cy="329.10" r="1.75" fill="#4f9685" stroke="#2c6258" stroke-width="0.5"/>
<circle cx="235.90" cy="331.80" r="1.75" fill="#4f9685" stroke="#2c6258" stroke-width="0.5"/>
<circle cx="242.30" cy="333.60" r="1.75" fill="#4f9685" stroke="#2c6258" stroke-width="0.5"/>
<circle cx="236.80" cy="335.50" r="1.75" fill="#4f9685" stroke="#2c6258" stroke-width="0.5"/>
<circle cx="241.40" cy="337.30" r="1.75" fill="#4f9685" stroke="#2c6258" stroke-width="0.5"/>
<circle cx="233.20" cy="341.80" r="1.75" fill="#4f9685" stroke="#2c6258" stroke-width="0.5"/>
<circle cx="237.70" cy="343.60" r="1.75" fill="#4f9685" stroke="#2c6258" stroke-width="0.5"/>
<circle cx="243.20" cy="343.60" r="1.75" fill="#4f9685" stroke="#2c6258" stroke-width="0.5"/>
<circle cx="245.00" cy="344.50" r="1.75" fill="#4f9685" stroke="#2c6258" stroke-width="0.5"/>
<circle cx="248.60" cy="343.60" r="1.75" fill="#4f9685" stroke="#2c6258" stroke-width="0.5"/>
<circle cx="233.20" cy="350.00" r="1.75" fill="#4f9685" stroke="#2c6258" stroke-width="0.5"/>
<circle cx="235.40" cy="344.50" r="1.75" fill="#4f9685" stroke="#2c6258" stroke-width="0.5"/>
<rect x="264" y="338.3" width="6.8" height="7.9" fill="#e6b87e"/>
<rect x="264" y="348.8" width="6.8" height="7.9" fill="#4a8b7f"/>
<text x="274.80" y="345.50" font-size="8.3" text-anchor="start" fill="#1a1a1a" font-weight="normal" >metastasis</text>
<text x="274.80" y="353.50" font-size="8.3" text-anchor="start" fill="#1a1a1a" font-weight="normal" >primary</text>
<line x1="39.5" y1="430.2" x2="39.5" y2="537.7" stroke="#222" stroke-width="0.8"/>
<line x1="39.1" y1="537.7" x2="262" y2="537.7" stroke="#777" stroke-width="1"/>
<line x1="37.5" y1="446.34" x2="39.5" y2="446.34" stroke="#222" stroke-width="0.8"/>
<text x="35.60" y="449.34" font-size="8.3" text-anchor="end" fill="#1a1a1a" font-weight="normal" >2</text>
<line x1="37.5" y1="474.50" x2="39.5" y2="474.50" stroke="#222" stroke-width="0.8"/>
<text x="35.60" y="477.50" font-size="8.3" text-anchor="end" fill="#1a1a1a" font-weight="normal" >0</text>
<line x1="37.5" y1="502.66" x2="39.5" y2="502.66" stroke="#222" stroke-width="0.8"/>
<text x="35.60" y="505.66" font-size="8.3" text-anchor="end" fill="#1a1a1a" font-weight="normal" >&#8722;2</text>
<line x1="37.5" y1="530.82" x2="39.5" y2="530.82" stroke="#222" stroke-width="0.8"/>
<text x="35.60" y="533.82" font-size="8.3" text-anchor="end" fill="#1a1a1a" font-weight="normal" >&#8722;4</text>
<line x1="76.7" y1="537.7" x2="76.7" y2="540.7" stroke="#666" stroke-width="0.8"/>
<text x="76.70" y="549.50" font-size="8.3" text-anchor="middle" fill="#1a1a1a" font-weight="normal" >Factor4</text>
<line x1="150.5" y1="537.7" x2="150.5" y2="540.7" stroke="#666" stroke-width="0.8"/>
<text x="150.50" y="549.50" font-size="8.3" text-anchor="middle" fill="#1a1a1a" font-weight="normal" >Factor5</text>
<line x1="224.6" y1="537.7" x2="224.6" y2="540.7" stroke="#666" stroke-width="0.8"/>
<text x="224.60" y="549.50" font-size="8.3" text-anchor="middle" fill="#1a1a1a" font-weight="normal" >Factor6</text>
<text x="150.50" y="435.30" font-size="11" text-anchor="middle" fill="#1a1a1a" font-weight="normal" >**</text>
<text transform="translate(19.90,482.40) rotate(-90)" x="0" y="2.99" font-size="8.3" text-anchor="middle" fill="#1a1a1a">Value</text>
<path d="M76.60,432.80C76.40,433.80 75.88,436.93 75.40,438.80C74.92,440.67 74.57,442.27 73.70,444.00C72.83,445.73 71.50,446.90 70.20,449.20C68.90,451.50 67.18,455.22 65.90,457.80C64.62,460.38 63.42,462.10 62.50,464.70C61.58,467.30 60.83,470.52 60.40,473.40C59.97,476.28 59.70,479.42 59.90,482.00C60.10,484.58 60.32,486.60 61.60,488.90C62.88,491.20 65.50,493.78 67.60,495.80C69.70,497.82 72.87,499.57 74.20,501.00C75.53,502.43 75.32,502.07 75.60,504.40C75.88,506.73 75.78,511.57 75.90,515.00C76.02,518.43 76.18,522.75 76.30,525.00C76.42,527.25 76.55,527.92 76.60,528.50L76.60,528.50L76.60,432.80Z" fill="#4b72a0" stroke="none"/>
<line x1="76.60" y1="467.30" x2="61.87" y2="467.30" stroke="#2a2a2a" stroke-width="0.65"/>
<line x1="76.60" y1="478.50" x2="60.10" y2="478.50" stroke="#2a2a2a" stroke-width="0.65" stroke-dasharray="1.6,1"/>
<line x1="76.60" y1="486.30" x2="60.96" y2="486.30" stroke="#2a2a2a" stroke-width="0.65"/>
<path d="M76.60,432.80C76.40,433.80 75.88,436.93 75.40,438.80C74.92,440.67 74.57,442.27 73.70,444.00C72.83,445.73 71.50,446.90 70.20,449.20C68.90,451.50 67.18,455.22 65.90,457.80C64.62,460.38 63.42,462.10 62.50,464.70C61.58,467.30 60.83,470.52 60.40,473.40C59.97,476.28 59.70,479.42 59.90,482.00C60.10,484.58 60.32,486.60 61.60,488.90C62.88,491.20 65.50,493.78 67.60,495.80C69.70,497.82 72.87,499.57 74.20,501.00C75.53,502.43 75.32,502.07 75.60,504.40C75.88,506.73 75.78,511.57 75.90,515.00C76.02,518.43 76.18,522.75 76.30,525.00C76.42,527.25 76.55,527.92 76.60,528.50L76.60,528.50L76.60,432.80Z" fill="none" stroke="#1e1e1e" stroke-width="0.75" stroke-linejoin="round"/>
<circle cx="58.10" cy="451.80" r="1.75" fill="#4d7bb0" stroke="#2d5282" stroke-width="0.5"/>
<circle cx="62.50" cy="456.60" r="1.75" fill="#4d7bb0" stroke="#2d5282" stroke-width="0.5"/>
<circle cx="65.60" cy="461.30" r="1.75" fill="#4d7bb0" stroke="#2d5282" stroke-width="0.5"/>
<circle cx="66.80" cy="465.60" r="1.75" fill="#4d7bb0" stroke="#2d5282" stroke-width="0.5"/>
<circle cx="58.10" cy="469.00" r="1.75" fill="#4d7bb0" stroke="#2d5282" stroke-width="0.5"/>
<circle cx="61.60" cy="474.20" r="1.75" fill="#4d7bb0" stroke="#2d5282" stroke-width="0.5"/>
<circle cx="65.90" cy="473.40" r="1.75" fill="#4d7bb0" stroke="#2d5282" stroke-width="0.5"/>
<circle cx="56.40" cy="477.70" r="1.75" fill="#4d7bb0" stroke="#2d5282" stroke-width="0.5"/>
<circle cx="54.70" cy="479.90" r="1.75" fill="#4d7bb0" stroke="#2d5282" stroke-width="0.5"/>
<circle cx="65.90" cy="478.90" r="1.75" fill="#4d7bb0" stroke="#2d5282" stroke-width="0.5"/>
<circle cx="59.00" cy="487.20" r="1.75" fill="#4d7bb0" stroke="#2d5282" stroke-width="0.5"/>
<circle cx="62.50" cy="484.60" r="1.75" fill="#4d7bb0" stroke="#2d5282" stroke-width="0.5"/>
<circle cx="65.90" cy="486.30" r="1.75" fill="#4d7bb0" stroke="#2d5282" stroke-width="0.5"/>
<circle cx="68.50" cy="484.60" r="1.75" fill="#4d7bb0" stroke="#2d5282" stroke-width="0.5"/>
<circle cx="67.60" cy="488.00" r="1.75" fill="#4d7bb0" stroke="#2d5282" stroke-width="0.5"/>
<circle cx="59.90" cy="512.70" r="1.75" fill="#4d7bb0" stroke="#2d5282" stroke-width="0.5"/>
<circle cx="68.50" cy="466.50" r="1.75" fill="#4d7bb0" stroke="#2d5282" stroke-width="0.5"/>
<path d="M76.60,432.80C76.83,433.80 77.42,436.93 78.00,438.80C78.58,440.67 79.38,441.98 80.10,444.00C80.82,446.02 81.65,448.32 82.30,450.90C82.95,453.48 83.50,456.62 84.00,459.50C84.50,462.38 84.80,465.32 85.30,468.20C85.80,471.08 86.35,474.22 87.00,476.80C87.65,479.38 89.12,481.68 89.20,483.70C89.28,485.72 88.50,487.17 87.50,488.90C86.50,490.63 84.55,492.37 83.20,494.10C81.85,495.83 80.42,497.58 79.40,499.30C78.38,501.02 77.57,502.97 77.10,504.40C76.63,505.83 76.68,507.32 76.60,507.90L76.60,507.90L76.60,432.80Z" fill="#a97777" stroke="none"/>
<line x1="76.60" y1="461.30" x2="84.27" y2="461.30" stroke="#2a2a2a" stroke-width="0.65"/>
<line x1="76.60" y1="476.50" x2="86.94" y2="476.50" stroke="#2a2a2a" stroke-width="0.65" stroke-dasharray="1.6,1"/>
<line x1="76.60" y1="484.10" x2="89.07" y2="484.10" stroke="#2a2a2a" stroke-width="0.65"/>
<path d="M76.60,432.80C76.83,433.80 77.42,436.93 78.00,438.80C78.58,440.67 79.38,441.98 80.10,444.00C80.82,446.02 81.65,448.32 82.30,450.90C82.95,453.48 83.50,456.62 84.00,459.50C84.50,462.38 84.80,465.32 85.30,468.20C85.80,471.08 86.35,474.22 87.00,476.80C87.65,479.38 89.12,481.68 89.20,483.70C89.28,485.72 88.50,487.17 87.50,488.90C86.50,490.63 84.55,492.37 83.20,494.10C81.85,495.83 80.42,497.58 79.40,499.30C78.38,501.02 77.57,502.97 77.10,504.40C76.63,505.83 76.68,507.32 76.60,507.90L76.60,507.90L76.60,432.80Z" fill="none" stroke="#1e1e1e" stroke-width="0.75" stroke-linejoin="round"/>
<circle cx="86.60" cy="448.30" r="1.75" fill="#b98080" stroke="#7f4b4b" stroke-width="0.5"/>
<circle cx="85.80" cy="450.90" r="1.75" fill="#b98080" stroke="#7f4b4b" stroke-width="0.5"/>
<circle cx="91.00" cy="452.30" r="1.75" fill="#b98080" stroke="#7f4b4b" stroke-width="0.5"/>
<circle cx="94.40" cy="449.50" r="1.75" fill="#b98080" stroke="#7f4b4b" stroke-width="0.5"/>
<circle cx="84.90" cy="461.30" r="1.75" fill="#b98080" stroke="#7f4b4b" stroke-width="0.5"/>
<circle cx="89.20" cy="463.00" r="1.75" fill="#b98080" stroke="#7f4b4b" stroke-width="0.5"/>
<circle cx="85.80" cy="466.50" r="1.75" fill="#b98080" stroke="#7f4b4b" stroke-width="0.5"/>
<circle cx="91.00" cy="474.20" r="1.75" fill="#b98080" stroke="#7f4b4b" stroke-width="0.5"/>
<circle cx="84.00" cy="478.50" r="1.75" fill="#b98080" stroke="#7f4b4b" stroke-width="0.5"/>
<circle cx="84.90" cy="483.70" r="1.75" fill="#b98080" stroke="#7f4b4b" stroke-width="0.5"/>
<circle cx="91.80" cy="484.60" r="1.75" fill="#b98080" stroke="#7f4b4b" stroke-width="0.5"/>
<circle cx="91.80" cy="487.20" r="1.75" fill="#b98080" stroke="#7f4b4b" stroke-width="0.5"/>
<circle cx="89.20" cy="489.80" r="1.75" fill="#b98080" stroke="#7f4b4b" stroke-width="0.5"/>
<circle cx="98.70" cy="482.00" r="1.75" fill="#b98080" stroke="#7f4b4b" stroke-width="0.5"/>
<circle cx="98.70" cy="487.20" r="1.75" fill="#b98080" stroke="#7f4b4b" stroke-width="0.5"/>
<circle cx="87.50" cy="459.50" r="1.75" fill="#b98080" stroke="#7f4b4b" stroke-width="0.5"/>
<path d="M150.40,444.00C149.48,444.43 147.27,445.68 144.90,446.60C142.53,447.52 139.12,448.53 136.20,449.50C133.28,450.47 129.70,451.43 127.40,452.40C125.10,453.37 123.42,454.32 122.40,455.30C121.38,456.28 120.95,457.32 121.30,458.30C121.65,459.28 123.12,460.23 124.50,461.20C125.88,462.17 127.78,462.90 129.60,464.10C131.42,465.30 133.95,466.95 135.40,468.40C136.85,469.85 137.33,471.33 138.30,472.80C139.27,474.27 140.10,475.75 141.20,477.20C142.30,478.65 143.68,480.05 144.90,481.50C146.12,482.95 147.58,484.68 148.50,485.90C149.42,487.12 150.08,488.32 150.40,488.80L150.40,488.80L150.40,444.00Z" fill="#4b72a0" stroke="none"/>
<line x1="150.40" y1="456.50" x2="121.96" y2="456.50" stroke="#2a2a2a" stroke-width="0.65"/>
<line x1="150.40" y1="461.20" x2="124.50" y2="461.20" stroke="#2a2a2a" stroke-width="0.65" stroke-dasharray="1.6,1"/>
<line x1="150.40" y1="467.30" x2="133.92" y2="467.30" stroke="#2a2a2a" stroke-width="0.65"/>
<path d="M150.40,444.00C149.48,444.43 147.27,445.68 144.90,446.60C142.53,447.52 139.12,448.53 136.20,449.50C133.28,450.47 129.70,451.43 127.40,452.40C125.10,453.37 123.42,454.32 122.40,455.30C121.38,456.28 120.95,457.32 121.30,458.30C121.65,459.28 123.12,460.23 124.50,461.20C125.88,462.17 127.78,462.90 129.60,464.10C131.42,465.30 133.95,466.95 135.40,468.40C136.85,469.85 137.33,471.33 138.30,472.80C139.27,474.27 140.10,475.75 141.20,477.20C142.30,478.65 143.68,480.05 144.90,481.50C146.12,482.95 147.58,484.68 148.50,485.90C149.42,487.12 150.08,488.32 150.40,488.80L150.40,488.80L150.40,444.00Z" fill="none" stroke="#1e1e1e" stroke-width="0.75" stroke-linejoin="round"/>
<circle cx="129.60" cy="453.90" r="1.75" fill="#4d7bb0" stroke="#2d5282" stroke-width="0.5"/>
<circle cx="133.30" cy="455.30" r="1.75" fill="#4d7bb0" stroke="#2d5282" stroke-width="0.5"/>
<circle cx="139.10" cy="453.90" r="1.75" fill="#4d7bb0" stroke="#2d5282" stroke-width="0.5"/>
<circle cx="132.50" cy="458.30" r="1.75" fill="#4d7bb0" stroke="#2d5282" stroke-width="0.5"/>
<circle cx="136.90" cy="460.40" r="1.75" fill="#4d7bb0" stroke="#2d5282" stroke-width="0.5"/>
<circle cx="141.30" cy="460.90" r="1.75" fill="#4d7bb0" stroke="#2d5282" stroke-width="0.5"/>
<circle cx="135.40" cy="464.10" r="1.75" fill="#4d7bb0" stroke="#2d5282" stroke-width="0.5"/>
<circle cx="129.60" cy="466.30" r="1.75" fill="#4d7bb0" stroke="#2d5282" stroke-width="0.5"/>
<circle cx="132.50" cy="468.70" r="1.75" fill="#4d7bb0" stroke="#2d5282" stroke-width="0.5"/>
<circle cx="134.70" cy="472.50" r="1.75" fill="#4d7bb0" stroke="#2d5282" stroke-width="0.5"/>
<circle cx="128.90" cy="477.20" r="1.75" fill="#4d7bb0" stroke="#2d5282" stroke-width="0.5"/>
<circle cx="128.90" cy="478.30" r="1.75" fill="#4d7bb0" stroke="#2d5282" stroke-width="0.5"/>
<circle cx="138.30" cy="479.30" r="1.75" fill="#4d7bb0" stroke="#2d5282" stroke-width="0.5"/>
<circle cx="140.50" cy="462.60" r="1.75" fill="#4d7bb0" stroke="#2d5282" stroke-width="0.5"/>
<path d="M150.40,456.80C150.70,458.02 151.55,461.92 152.20,464.10C152.85,466.28 153.22,468.22 154.30,469.90C155.38,471.58 156.75,472.75 158.70,474.20C160.65,475.65 163.95,477.38 166.00,478.60C168.05,479.82 169.92,480.28 171.00,481.50C172.08,482.72 172.13,484.45 172.50,485.90C172.87,487.35 173.80,488.75 173.20,490.20C172.60,491.65 170.72,493.13 168.90,494.60C167.08,496.07 164.85,497.55 162.30,499.00C159.75,500.45 155.58,501.97 153.60,503.30C151.62,504.63 150.93,506.38 150.40,507.00L150.40,507.00L150.40,456.80Z" fill="#a97777" stroke="none"/>
<line x1="150.40" y1="481.80" x2="171.10" y2="481.80" stroke="#2a2a2a" stroke-width="0.65"/>
<line x1="150.40" y1="486.20" x2="172.55" y2="486.20" stroke="#2a2a2a" stroke-width="0.65" stroke-dasharray="1.6,1"/>
<line x1="150.40" y1="492.40" x2="171.05" y2="492.40" stroke="#2a2a2a" stroke-width="0.65"/>
<path d="M150.40,456.80C150.70,458.02 151.55,461.92 152.20,464.10C152.85,466.28 153.22,468.22 154.30,469.90C155.38,471.58 156.75,472.75 158.70,474.20C160.65,475.65 163.95,477.38 166.00,478.60C168.05,479.82 169.92,480.28 171.00,481.50C172.08,482.72 172.13,484.45 172.50,485.90C172.87,487.35 173.80,488.75 173.20,490.20C172.60,491.65 170.72,493.13 168.90,494.60C167.08,496.07 164.85,497.55 162.30,499.00C159.75,500.45 155.58,501.97 153.60,503.30C151.62,504.63 150.93,506.38 150.40,507.00L150.40,507.00L150.40,456.80Z" fill="none" stroke="#1e1e1e" stroke-width="0.75" stroke-linejoin="round"/>
<circle cx="162.00" cy="465.50" r="1.75" fill="#b98080" stroke="#7f4b4b" stroke-width="0.5"/>
<circle cx="167.40" cy="471.60" r="1.75" fill="#b98080" stroke="#7f4b4b" stroke-width="0.5"/>
<circle cx="158.00" cy="477.20" r="1.75" fill="#b98080" stroke="#7f4b4b" stroke-width="0.5"/>
<circle cx="165.20" cy="479.30" r="1.75" fill="#b98080" stroke="#7f4b4b" stroke-width="0.5"/>
<circle cx="169.60" cy="481.50" r="1.75" fill="#b98080" stroke="#7f4b4b" stroke-width="0.5"/>
<circle cx="172.50" cy="482.20" r="1.75" fill="#b98080" stroke="#7f4b4b" stroke-width="0.5"/>
<circle cx="166.70" cy="484.40" r="1.75" fill="#b98080" stroke="#7f4b4b" stroke-width="0.5"/>
<circle cx="171.00" cy="485.90" r="1.75" fill="#b98080" stroke="#7f4b4b" stroke-width="0.5"/>
<circle cx="158.70" cy="485.10" r="1.75" fill="#b98080" stroke="#7f4b4b" stroke-width="0.5"/>
<circle cx="168.10" cy="488.10" r="1.75" fill="#b98080" stroke="#7f4b4b" stroke-width="0.5"/>
<circle cx="173.20" cy="489.50" r="1.75" fill="#b98080" stroke="#7f4b4b" stroke-width="0.5"/>
<circle cx="167.40" cy="491.00" r="1.75" fill="#b98080" stroke="#7f4b4b" stroke-width="0.5"/>
<circle cx="171.00" cy="492.40" r="1.75" fill="#b98080" stroke="#7f4b4b" stroke-width="0.5"/>
<circle cx="158.70" cy="492.40" r="1.75" fill="#b98080" stroke="#7f4b4b" stroke-width="0.5"/>
<circle cx="168.90" cy="496.00" r="1.75" fill="#b98080" stroke="#7f4b4b" stroke-width="0.5"/>
<circle cx="160.10" cy="497.50" r="1.75" fill="#b98080" stroke="#7f4b4b" stroke-width="0.5"/>
<path d="M224.70,432.30C224.42,433.17 224.08,435.23 223.00,437.50C221.92,439.77 219.58,443.10 218.20,445.90C216.82,448.70 215.57,451.52 214.70,454.30C213.83,457.08 213.35,459.82 213.00,462.60C212.65,465.38 212.53,468.20 212.60,471.00C212.67,473.80 213.05,476.62 213.40,479.40C213.75,482.18 214.13,484.92 214.70,487.70C215.27,490.48 216.03,493.32 216.80,496.10C217.57,498.88 218.53,501.62 219.30,504.40C220.07,507.18 220.70,510.00 221.40,512.80C222.10,515.60 222.95,517.88 223.50,521.20C224.05,524.52 224.50,530.78 224.70,532.70L224.70,532.70L224.70,432.30Z" fill="#4b72a0" stroke="none"/>
<line x1="224.70" y1="458.50" x2="213.84" y2="458.50" stroke="#2a2a2a" stroke-width="0.65"/>
<line x1="224.70" y1="474.10" x2="212.90" y2="474.10" stroke="#2a2a2a" stroke-width="0.65" stroke-dasharray="1.6,1"/>
<line x1="224.70" y1="490.90" x2="215.50" y2="490.90" stroke="#2a2a2a" stroke-width="0.65"/>
<path d="M224.70,432.30C224.42,433.17 224.08,435.23 223.00,437.50C221.92,439.77 219.58,443.10 218.20,445.90C216.82,448.70 215.57,451.52 214.70,454.30C213.83,457.08 213.35,459.82 213.00,462.60C212.65,465.38 212.53,468.20 212.60,471.00C212.67,473.80 213.05,476.62 213.40,479.40C213.75,482.18 214.13,484.92 214.70,487.70C215.27,490.48 216.03,493.32 216.80,496.10C217.57,498.88 218.53,501.62 219.30,504.40C220.07,507.18 220.70,510.00 221.40,512.80C222.10,515.60 222.95,517.88 223.50,521.20C224.05,524.52 224.50,530.78 224.70,532.70L224.70,532.70L224.70,432.30Z" fill="none" stroke="#1e1e1e" stroke-width="0.75" stroke-linejoin="round"/>
<circle cx="205.00" cy="452.80" r="1.75" fill="#4d7bb0" stroke="#2d5282" stroke-width="0.5"/>
<circle cx="206.50" cy="454.30" r="1.75" fill="#4d7bb0" stroke="#2d5282" stroke-width="0.5"/>
<circle cx="206.50" cy="458.50" r="1.75" fill="#4d7bb0" stroke="#2d5282" stroke-width="0.5"/>
<circle cx="209.20" cy="464.30" r="1.75" fill="#4d7bb0" stroke="#2d5282" stroke-width="0.5"/>
<circle cx="213.80" cy="460.50" r="1.75" fill="#4d7bb0" stroke="#2d5282" stroke-width="0.5"/>
<circle cx="212.10" cy="472.00" r="1.75" fill="#4d7bb0" stroke="#2d5282" stroke-width="0.5"/>
<circle cx="208.00" cy="474.80" r="1.75" fill="#4d7bb0" stroke="#2d5282" stroke-width="0.5"/>
<circle cx="211.30" cy="473.50" r="1.75" fill="#4d7bb0" stroke="#2d5282" stroke-width="0.5"/>
<circle cx="210.10" cy="477.30" r="1.75" fill="#4d7bb0" stroke="#2d5282" stroke-width="0.5"/>
<circle cx="210.70" cy="483.10" r="1.75" fill="#4d7bb0" stroke="#2d5282" stroke-width="0.5"/>
<circle cx="214.90" cy="484.20" r="1.75" fill="#4d7bb0" stroke="#2d5282" stroke-width="0.5"/>
<circle cx="209.60" cy="490.20" r="1.75" fill="#4d7bb0" stroke="#2d5282" stroke-width="0.5"/>
<circle cx="205.90" cy="494.00" r="1.75" fill="#4d7bb0" stroke="#2d5282" stroke-width="0.5"/>
<circle cx="215.90" cy="492.30" r="1.75" fill="#4d7bb0" stroke="#2d5282" stroke-width="0.5"/>
<circle cx="216.30" cy="501.30" r="1.75" fill="#4d7bb0" stroke="#2d5282" stroke-width="0.5"/>
<circle cx="213.40" cy="509.00" r="1.75" fill="#4d7bb0" stroke="#2d5282" stroke-width="0.5"/>
<circle cx="214.20" cy="511.30" r="1.75" fill="#4d7bb0" stroke="#2d5282" stroke-width="0.5"/>
<circle cx="217.00" cy="454.30" r="1.75" fill="#4d7bb0" stroke="#2d5282" stroke-width="0.5"/>
<path d="M224.70,445.90C225.37,447.30 226.98,451.52 228.70,454.30C230.42,457.08 232.38,460.17 235.00,462.60C237.62,465.03 241.45,467.15 244.40,468.90C247.35,470.65 250.97,472.12 252.70,473.10C254.43,474.08 255.15,474.10 254.80,474.80C254.45,475.50 253.90,475.85 250.60,477.30C247.30,478.75 239.00,481.42 235.00,483.50C231.00,485.58 228.32,488.22 226.60,489.80C224.88,491.38 225.02,492.47 224.70,493.00L224.70,493.00L224.70,445.90Z" fill="#a97777" stroke="none"/>
<line x1="224.70" y1="470.00" x2="246.57" y2="470.00" stroke="#2a2a2a" stroke-width="0.65"/>
<line x1="224.70" y1="474.10" x2="253.94" y2="474.10" stroke="#2a2a2a" stroke-width="0.65" stroke-dasharray="1.6,1"/>
<line x1="224.70" y1="476.20" x2="252.45" y2="476.20" stroke="#2a2a2a" stroke-width="0.65"/>
<path d="M224.70,445.90C225.37,447.30 226.98,451.52 228.70,454.30C230.42,457.08 232.38,460.17 235.00,462.60C237.62,465.03 241.45,467.15 244.40,468.90C247.35,470.65 250.97,472.12 252.70,473.10C254.43,474.08 255.15,474.10 254.80,474.80C254.45,475.50 253.90,475.85 250.60,477.30C247.30,478.75 239.00,481.42 235.00,483.50C231.00,485.58 228.32,488.22 226.60,489.80C224.88,491.38 225.02,492.47 224.70,493.00L224.70,493.00L224.70,445.90Z" fill="none" stroke="#1e1e1e" stroke-width="0.75" stroke-linejoin="round"/>
<circle cx="244.80" cy="455.30" r="1.75" fill="#b98080" stroke="#7f4b4b" stroke-width="0.5"/>
<circle cx="233.70" cy="461.60" r="1.75" fill="#b98080" stroke="#7f4b4b" stroke-width="0.5"/>
<circle cx="237.90" cy="465.80" r="1.75" fill="#b98080" stroke="#7f4b4b" stroke-width="0.5"/>
<circle cx="243.10" cy="467.90" r="1.75" fill="#b98080" stroke="#7f4b4b" stroke-width="0.5"/>
<circle cx="240.00" cy="470.00" r="1.75" fill="#b98080" stroke="#7f4b4b" stroke-width="0.5"/>
<circle cx="235.80" cy="474.10" r="1.75" fill="#b98080" stroke="#7f4b4b" stroke-width="0.5"/>
<circle cx="242.00" cy="473.10" r="1.75" fill="#b98080" stroke="#7f4b4b" stroke-width="0.5"/>
<circle cx="246.20" cy="474.80" r="1.75" fill="#b98080" stroke="#7f4b4b" stroke-width="0.5"/>
<circle cx="249.40" cy="473.50" r="1.75" fill="#b98080" stroke="#7f4b4b" stroke-width="0.5"/>
<circle cx="245.20" cy="477.30" r="1.75" fill="#b98080" stroke="#7f4b4b" stroke-width="0.5"/>
<circle cx="244.10" cy="481.00" r="1.75" fill="#b98080" stroke="#7f4b4b" stroke-width="0.5"/>
<circle cx="243.10" cy="486.00" r="1.75" fill="#b98080" stroke="#7f4b4b" stroke-width="0.5"/>
<circle cx="238.90" cy="475.20" r="1.75" fill="#b98080" stroke="#7f4b4b" stroke-width="0.5"/>
<rect x="264" y="471" width="6.8" height="7.7" fill="#4b72a0"/>
<rect x="264" y="481.3" width="6.8" height="7.7" fill="#a97777"/>
<text x="274.20" y="477.00" font-size="8.3" text-anchor="start" fill="#1a1a1a" font-weight="normal" >normal</text>
<text x="274.20" y="487.50" font-size="8.3" text-anchor="start" fill="#1a1a1a" font-weight="normal" >tumor</text>
<linearGradient id="gf" x1="0" y1="0" x2="0" y2="1"><stop offset="0" stop-color="#5a2535"/><stop offset="0.5" stop-color="#9e808a"/><stop offset="1" stop-color="#eee9eb"/></linearGradient>
<rect x="334.4" y="299.5" width="7.4" height="113.5" fill="url(#gf)"/>
<text x="343.70" y="308.60" font-size="8.3" text-anchor="start" fill="#1a1a1a" font-weight="normal" >60</text>
<text x="343.70" y="330.30" font-size="8.3" text-anchor="start" fill="#1a1a1a" font-weight="normal" >50</text>
<text x="343.70" y="351.90" font-size="8.3" text-anchor="start" fill="#1a1a1a" font-weight="normal" >40</text>
<text x="343.70" y="373.50" font-size="8.3" text-anchor="start" fill="#1a1a1a" font-weight="normal" >30</text>
<text x="343.70" y="394.50" font-size="8.3" text-anchor="start" fill="#1a1a1a" font-weight="normal" >20</text>
<text x="343.70" y="416.00" font-size="8.3" text-anchor="start" fill="#1a1a1a" font-weight="normal" >10</text>
<text transform="translate(327.60,356.50) rotate(-90)" x="0" y="2.99" font-size="8.3" text-anchor="middle" fill="#1a1a1a">Variance Explained</text>
<rect x="360.6" y="299.00" width="12" height="23.85" fill="#5b2535" stroke="#a8a8a8" stroke-width="0.7"/>
<text x="376.40" y="313.18" font-size="8.3" text-anchor="start" fill="#1a1a1a" font-weight="normal" >hC72_B<tspan dx="0.3">&#8722;</tspan><tspan dx="0.45">IGLC3</tspan></text>
<rect x="360.6" y="322.85" width="12" height="23.85" fill="#b59ba4" stroke="#a8a8a8" stroke-width="0.7"/>
<text x="376.40" y="337.03" font-size="8.3" text-anchor="start" fill="#1a1a1a" font-weight="normal" >hC40_cDC2<tspan dx="0.3">&#8722;</tspan><tspan dx="0.45">TIMP1</tspan></text>
<rect x="360.6" y="346.70" width="12" height="23.85" fill="#b79ea7" stroke="#a8a8a8" stroke-width="0.7"/>
<text x="376.40" y="360.88" font-size="8.3" text-anchor="start" fill="#1a1a1a" font-weight="normal" >hC77_plasmaB<tspan dx="0.3">&#8722;</tspan><tspan dx="0.45">IGHA1|IGLC2</tspan></text>
<rect x="360.6" y="370.55" width="12" height="23.85" fill="#e5dde0" stroke="#a8a8a8" stroke-width="0.7"/>
<text x="376.40" y="384.73" font-size="8.3" text-anchor="start" fill="#1a1a1a" font-weight="normal" >hC75_B<tspan dx="0.3">&#8722;</tspan><tspan dx="0.45">CD3E</tspan></text>
<rect x="360.6" y="394.40" width="12" height="23.85" fill="#fff" stroke="#a8a8a8" stroke-width="0.7"/>
<text x="376.40" y="408.57" font-size="8.3" text-anchor="start" fill="#1a1a1a" font-weight="normal" >hC29_CD4_MKI67</text>
<rect x="360.6" y="418.25" width="12" height="23.85" fill="#fff" stroke="#a8a8a8" stroke-width="0.7"/>
<text x="376.40" y="432.43" font-size="8.3" text-anchor="start" fill="#1a1a1a" font-weight="normal" >hC58_ILC3<tspan dx="0.3">&#8722;</tspan><tspan dx="0.45">KIT</tspan></text>
<rect x="360.6" y="442.10" width="12" height="23.85" fill="#fff" stroke="#a8a8a8" stroke-width="0.7"/>
<text x="376.40" y="456.28" font-size="8.3" text-anchor="start" fill="#1a1a1a" font-weight="normal" >hC18_CD4_Temra<tspan dx="0.3">&#8722;</tspan><tspan dx="0.45">GNLY|RGS1</tspan></text>
<rect x="360.6" y="465.95" width="12" height="23.85" fill="#fff" stroke="#a8a8a8" stroke-width="0.7"/>
<text x="376.40" y="480.13" font-size="8.3" text-anchor="start" fill="#1a1a1a" font-weight="normal" >hC50_Mph<tspan dx="0.3">&#8722;</tspan><tspan dx="0.45">IL1B</tspan></text>
<rect x="360.6" y="489.80" width="12" height="23.85" fill="#fff" stroke="#a8a8a8" stroke-width="0.7"/>
<text x="376.40" y="503.98" font-size="8.3" text-anchor="start" fill="#1a1a1a" font-weight="normal" >hC38_cDC2<tspan dx="0.3">&#8722;</tspan><tspan dx="0.45">C1QC</tspan></text>
<rect x="360.6" y="513.65" width="12" height="23.85" fill="#fff" stroke="#a8a8a8" stroke-width="0.7"/>
<text x="376.40" y="527.82" font-size="8.3" text-anchor="start" fill="#1a1a1a" font-weight="normal" >hC53_Mph<tspan dx="0.3">&#8722;</tspan><tspan dx="0.45">C1QC</tspan></text>
<text x="366.60" y="549.70" font-size="8.3" text-anchor="middle" fill="#1a1a1a" font-weight="normal" >Factor4</text>
<rect x="510.1" y="298.9" width="7.4" height="112.8" fill="url(#gf)"/>
<text x="519.40" y="313.60" font-size="8.3" text-anchor="start" fill="#1a1a1a" font-weight="normal" >35</text>
<text x="519.40" y="334.40" font-size="8.3" text-anchor="start" fill="#1a1a1a" font-weight="normal" >30</text>
<text x="519.40" y="354.70" font-size="8.3" text-anchor="start" fill="#1a1a1a" font-weight="normal" >25</text>
<text x="519.40" y="374.90" font-size="8.3" text-anchor="start" fill="#1a1a1a" font-weight="normal" >20</text>
<text x="519.40" y="395.40" font-size="8.3" text-anchor="start" fill="#1a1a1a" font-weight="normal" >15</text>
<text x="519.40" y="415.60" font-size="8.3" text-anchor="start" fill="#1a1a1a" font-weight="normal" >10</text>
<text transform="translate(504.40,356.50) rotate(-90)" x="0" y="2.99" font-size="8.3" text-anchor="middle" fill="#1a1a1a">Variance Explained</text>
<rect x="536.1" y="298.90" width="12" height="23.86" fill="#5a2535" stroke="#a8a8a8" stroke-width="0.7"/>
<text x="551.10" y="314.23" font-size="8.3" text-anchor="start" fill="#1a1a1a" font-weight="normal" >hC74_B<tspan dx="0.3">&#8722;</tspan><tspan dx="0.45">MKI67</tspan></text>
<rect x="536.1" y="322.76" width="12" height="23.86" fill="#a58a93" stroke="#a8a8a8" stroke-width="0.7"/>
<text x="551.10" y="338.09" font-size="8.3" text-anchor="start" fill="#1a1a1a" font-weight="normal" >hC38_cDC2<tspan dx="0.3">&#8722;</tspan><tspan dx="0.45">C1QC</tspan></text>
<rect x="536.1" y="346.62" width="12" height="23.86" fill="#a78c95" stroke="#a8a8a8" stroke-width="0.7"/>
<text x="551.10" y="361.95" font-size="8.3" text-anchor="start" fill="#1a1a1a" font-weight="normal" >hC50_Mph<tspan dx="0.3">&#8722;</tspan><tspan dx="0.45">IL1B</tspan></text>
<rect x="536.1" y="370.48" width="12" height="23.86" fill="#cdbcc2" stroke="#a8a8a8" stroke-width="0.7"/>
<text x="551.10" y="385.81" font-size="8.3" text-anchor="start" fill="#1a1a1a" font-weight="normal" >hC57_Mast<tspan dx="0.3">&#8722;</tspan><tspan dx="0.45">CPA3</tspan></text>
<rect x="536.1" y="394.34" width="12" height="23.86" fill="#d0c1c6" stroke="#a8a8a8" stroke-width="0.7"/>
<text x="551.10" y="409.67" font-size="8.3" text-anchor="start" fill="#1a1a1a" font-weight="normal" >CD45<tspan dx="0.3">&#8722;</tspan><tspan dx="0.45"></tspan></text>
<rect x="536.1" y="418.20" width="12" height="23.86" fill="#cfc0c5" stroke="#a8a8a8" stroke-width="0.7"/>
<text x="551.10" y="433.53" font-size="8.3" text-anchor="start" fill="#1a1a1a" font-weight="normal" >hC27_CD4_Treg<tspan dx="0.3">&#8722;</tspan><tspan dx="0.45">CTLA4</tspan></text>
<rect x="536.1" y="442.06" width="12" height="23.86" fill="#d6c9ce" stroke="#a8a8a8" stroke-width="0.7"/>
<text x="551.10" y="457.39" font-size="8.3" text-anchor="start" fill="#1a1a1a" font-weight="normal" >hC59_NK<tspan dx="0.3">&#8722;</tspan><tspan dx="0.45">FCGR3A</tspan></text>
<rect x="536.1" y="465.92" width="12" height="23.86" fill="#ebe6e8" stroke="#a8a8a8" stroke-width="0.7"/>
<text x="551.10" y="481.25" font-size="8.3" text-anchor="start" fill="#1a1a1a" font-weight="normal" >hC24_CD4_Th1<tspan dx="0.3">&#8722;</tspan><tspan dx="0.45">CXCL13</tspan></text>
<rect x="536.1" y="489.78" width="12" height="23.86" fill="#fff" stroke="#a8a8a8" stroke-width="0.7"/>
<text x="551.10" y="505.11" font-size="8.3" text-anchor="start" fill="#1a1a1a" font-weight="normal" >hC35_cDC1<tspan dx="0.3">&#8722;</tspan><tspan dx="0.45">CLEC9A</tspan></text>
<rect x="536.1" y="513.64" width="12" height="23.86" fill="#fff" stroke="#a8a8a8" stroke-width="0.7"/>
<text x="551.10" y="528.97" font-size="8.3" text-anchor="start" fill="#1a1a1a" font-weight="normal" >hC56_Mph<tspan dx="0.3">&#8722;</tspan><tspan dx="0.45">CD3E</tspan></text>
<text x="542.10" y="549.70" font-size="8.3" text-anchor="middle" fill="#1a1a1a" font-weight="normal" >Factor5</text>
<rect x="662.2" y="298.3" width="7.4" height="112.2" fill="url(#gf)"/>
<text x="671.50" y="305.70" font-size="8.3" text-anchor="start" fill="#1a1a1a" font-weight="normal" >22</text>
<text x="671.50" y="321.30" font-size="8.3" text-anchor="start" fill="#1a1a1a" font-weight="normal" >20</text>
<text x="671.50" y="336.90" font-size="8.3" text-anchor="start" fill="#1a1a1a" font-weight="normal" >18</text>
<text x="671.50" y="352.60" font-size="8.3" text-anchor="start" fill="#1a1a1a" font-weight="normal" >16</text>
<text x="671.50" y="368.70" font-size="8.3" text-anchor="start" fill="#1a1a1a" font-weight="normal" >14</text>
<text x="671.50" y="384.00" font-size="8.3" text-anchor="start" fill="#1a1a1a" font-weight="normal" >12</text>
<text x="671.50" y="399.70" font-size="8.3" text-anchor="start" fill="#1a1a1a" font-weight="normal" >10</text>
<text x="671.50" y="415.00" font-size="8.3" text-anchor="start" fill="#1a1a1a" font-weight="normal" >8</text>
<text transform="translate(656.70,356.50) rotate(-90)" x="0" y="2.99" font-size="8.3" text-anchor="middle" fill="#1a1a1a">Variance Explained</text>
<rect x="687.9" y="297.60" width="12" height="23.99" fill="#5a2638" stroke="#a8a8a8" stroke-width="0.7"/>
<text x="702.80" y="311.85" font-size="8.3" text-anchor="start" fill="#1a1a1a" font-weight="normal" >hC54_Mph<tspan dx="0.3">&#8722;</tspan><tspan dx="0.45">SPP1</tspan></text>
<rect x="687.9" y="321.59" width="12" height="23.99" fill="#8e6b77" stroke="#a8a8a8" stroke-width="0.7"/>
<text x="702.80" y="335.84" font-size="8.3" text-anchor="start" fill="#1a1a1a" font-weight="normal" >hC16_CD4_Tcm<tspan dx="0.3">&#8722;</tspan><tspan dx="0.45">ANXA1</tspan></text>
<rect x="687.9" y="345.58" width="12" height="23.99" fill="#a68a94" stroke="#a8a8a8" stroke-width="0.7"/>
<text x="702.80" y="359.83" font-size="8.3" text-anchor="start" fill="#1a1a1a" font-weight="normal" >hC21_CD4_Tem<tspan dx="0.3">&#8722;</tspan><tspan dx="0.45">GZMK</tspan></text>
<rect x="687.9" y="369.57" width="12" height="23.99" fill="#b39aa3" stroke="#a8a8a8" stroke-width="0.7"/>
<text x="702.80" y="383.82" font-size="8.3" text-anchor="start" fill="#1a1a1a" font-weight="normal" >hC24_CD4_Th1<tspan dx="0.3">&#8722;</tspan><tspan dx="0.45">CXCL13</tspan></text>
<rect x="687.9" y="393.56" width="12" height="23.99" fill="#b59ea6" stroke="#a8a8a8" stroke-width="0.7"/>
<text x="702.80" y="407.81" font-size="8.3" text-anchor="start" fill="#1a1a1a" font-weight="normal" >hC67_NK<tspan dx="0.3">&#8722;</tspan><tspan dx="0.45">IL7R</tspan></text>
<rect x="687.9" y="417.55" width="12" height="23.99" fill="#cdbdc3" stroke="#a8a8a8" stroke-width="0.7"/>
<text x="702.80" y="431.80" font-size="8.3" text-anchor="start" fill="#1a1a1a" font-weight="normal" >CD3D<tspan dx="0.3">&#8722;</tspan><tspan dx="0.45">CD4+</tspan></text>
<rect x="687.9" y="441.54" width="12" height="23.99" fill="#d2c4c9" stroke="#a8a8a8" stroke-width="0.7"/>
<text x="702.80" y="455.79" font-size="8.3" text-anchor="start" fill="#1a1a1a" font-weight="normal" >hC15_CD4_Tn<tspan dx="0.3">&#8722;</tspan><tspan dx="0.45">CCR7</tspan></text>
<rect x="687.9" y="465.53" width="12" height="23.99" fill="#e6dfe1" stroke="#a8a8a8" stroke-width="0.7"/>
<text x="702.80" y="479.77" font-size="8.3" text-anchor="start" fill="#1a1a1a" font-weight="normal" >hC05_CD8_Tem<tspan dx="0.3">&#8722;</tspan><tspan dx="0.45">GZMK</tspan></text>
<rect x="687.9" y="489.52" width="12" height="23.99" fill="#fff" stroke="#a8a8a8" stroke-width="0.7"/>
<text x="702.80" y="503.76" font-size="8.3" text-anchor="start" fill="#1a1a1a" font-weight="normal" >hC62_NK<tspan dx="0.3">&#8722;</tspan><tspan dx="0.45">DUSP4</tspan></text>
<rect x="687.9" y="513.51" width="12" height="23.99" fill="#fff" stroke="#a8a8a8" stroke-width="0.7"/>
<text x="702.80" y="527.75" font-size="8.3" text-anchor="start" fill="#1a1a1a" font-weight="normal" >CD45<tspan dx="0.3">&#8722;</tspan><tspan dx="0.45"></tspan></text>
<text x="693.90" y="549.70" font-size="8.3" text-anchor="middle" fill="#1a1a1a" font-weight="normal" >Factor6</text>
</svg>
</body></html>
